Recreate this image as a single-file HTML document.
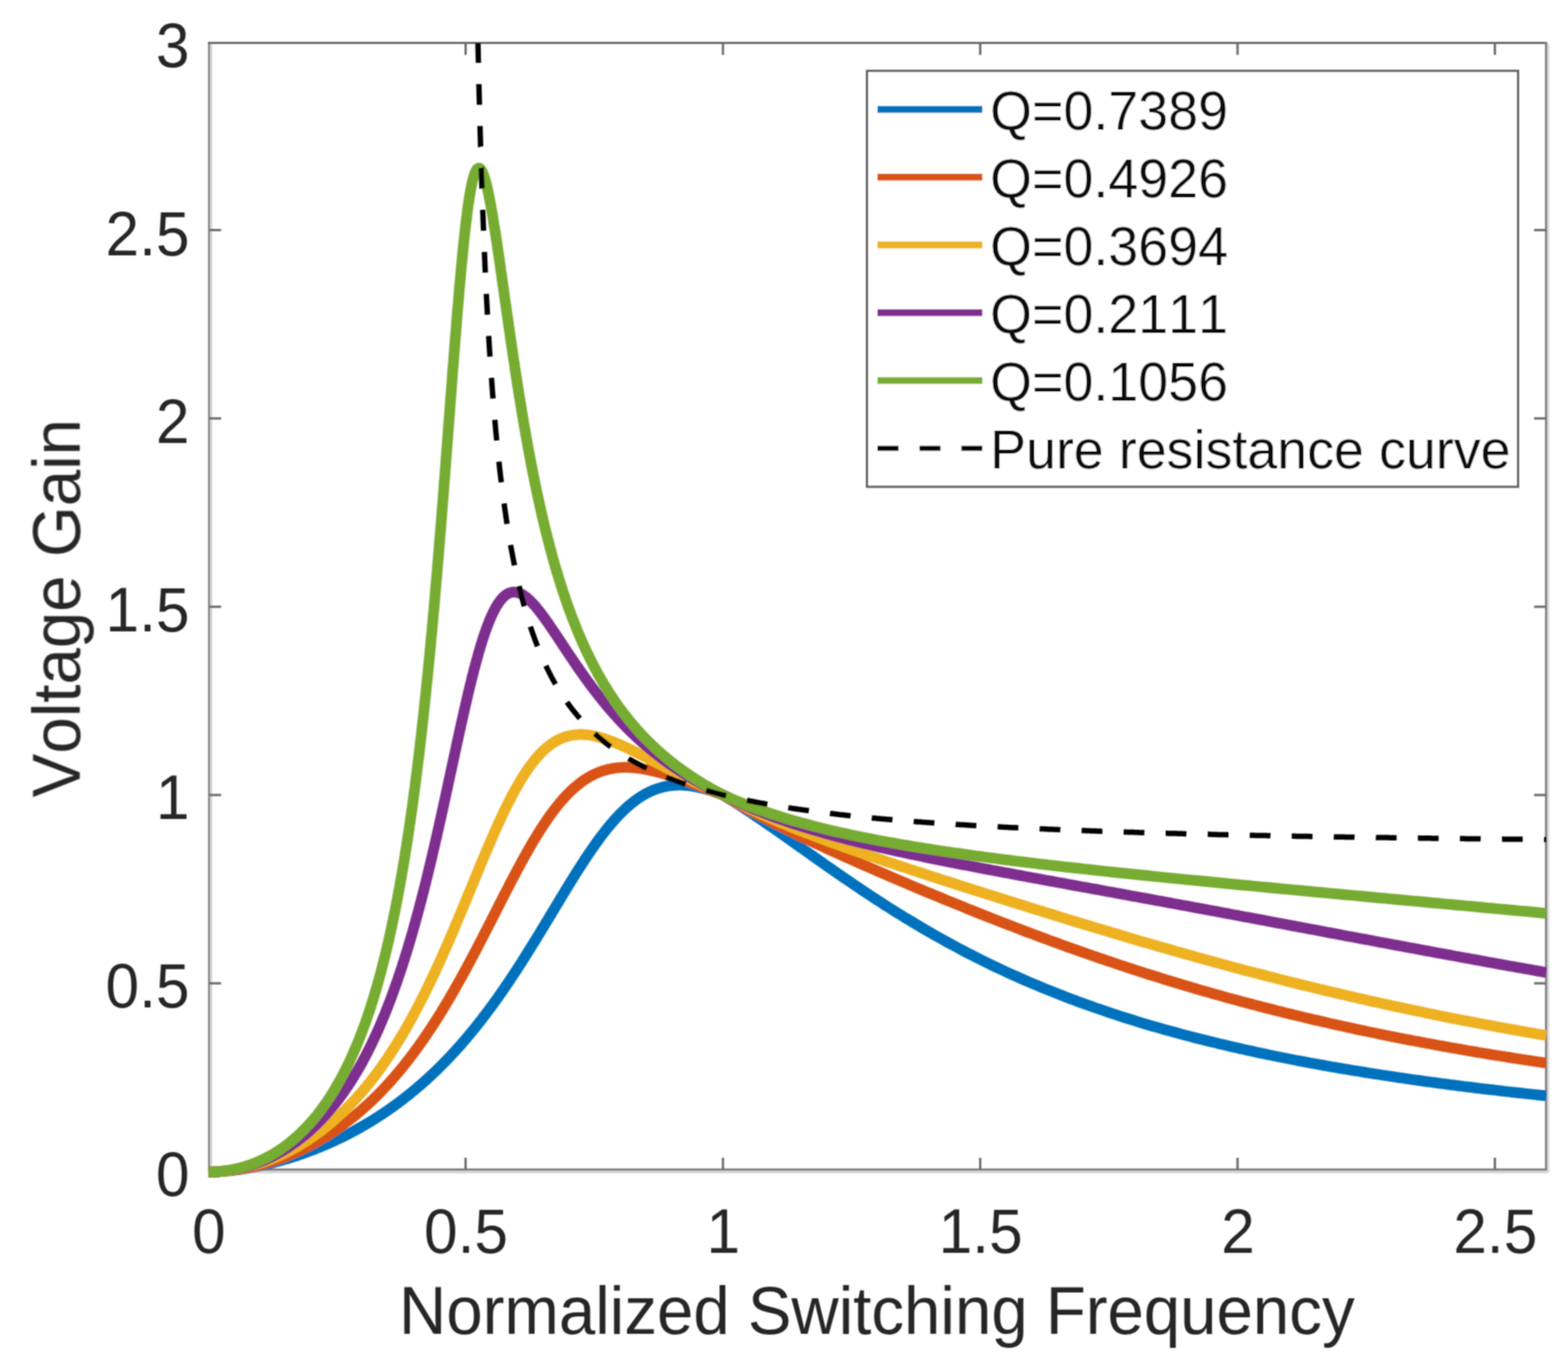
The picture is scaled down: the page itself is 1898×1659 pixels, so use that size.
<!DOCTYPE html>
<html><head><meta charset="utf-8"><title>Voltage Gain</title>
<style>html,body{margin:0;padding:0;background:#fff;}svg{display:block;}text{font-kerning:none;}</style>
</head><body>
<svg width="1898" height="1659" viewBox="0 0 1898 1659">
<rect width="100%" height="100%" fill="#fff"/>
<defs><filter id="soft" x="0" y="0" width="1898" height="1659" filterUnits="userSpaceOnUse"><feConvolveMatrix order="3" kernelMatrix="1 2 1 2 4 2 1 2 1" divisor="16" edgeMode="none"/></filter><clipPath id="ax"><rect x="252.2" y="51.9" width="1620.3" height="1375.6"/></clipPath></defs>
<g filter="url(#soft)">
<rect x="251.8" y="50.9" width="2.5" height="1365" fill="#808080"/>
<rect x="254.3" y="53" width="2.6" height="1361" fill="#d2d2d2"/>
<rect x="251.8" y="1413.9" width="1621" height="2.9" fill="#808080"/>
<rect x="254.3" y="1416.8" width="1619" height="3.1" fill="#d6d6d6"/>
<rect x="251.8" y="50.8" width="1621" height="2.3" fill="#555"/>
<rect x="1870.2" y="50.9" width="2.7" height="1365" fill="#7a7a7a"/>
<rect x="1872.9" y="53" width="2.6" height="1366" fill="#dcdcdc"/>
<g stroke="#6a6a6a" stroke-width="2.8" fill="none">
<line x1="563.6" y1="1415.5" x2="563.6" y2="1401.0"/><line x1="563.6" y1="51.9" x2="563.6" y2="66.4"/>
<line x1="875.1" y1="1415.5" x2="875.1" y2="1401.0"/><line x1="875.1" y1="51.9" x2="875.1" y2="66.4"/>
<line x1="1186.5" y1="1415.5" x2="1186.5" y2="1401.0"/><line x1="1186.5" y1="51.9" x2="1186.5" y2="66.4"/>
<line x1="1498.0" y1="1415.5" x2="1498.0" y2="1401.0"/><line x1="1498.0" y1="51.9" x2="1498.0" y2="66.4"/>
<line x1="1809.5" y1="1415.5" x2="1809.5" y2="1401.0"/><line x1="1809.5" y1="51.9" x2="1809.5" y2="66.4"/>
<line x1="253.2" y1="1189.9" x2="267.7" y2="1189.9"/><line x1="1871.5" y1="1189.9" x2="1857.0" y2="1189.9"/>
<line x1="253.2" y1="962.0" x2="267.7" y2="962.0"/><line x1="1871.5" y1="962.0" x2="1857.0" y2="962.0"/>
<line x1="253.2" y1="734.2" x2="267.7" y2="734.2"/><line x1="1871.5" y1="734.2" x2="1857.0" y2="734.2"/>
<line x1="253.2" y1="506.3" x2="267.7" y2="506.3"/><line x1="1871.5" y1="506.3" x2="1857.0" y2="506.3"/>
<line x1="253.2" y1="278.4" x2="267.7" y2="278.4"/><line x1="1871.5" y1="278.4" x2="1857.0" y2="278.4"/>
</g>
<g clip-path="url(#ax)" fill="none" stroke-linejoin="round">
<path d="M252.5,1418.2 L255.7,1418.2 L258.8,1418.1 L262.0,1417.9 L265.2,1417.7 L268.3,1417.5 L271.5,1417.2 L274.6,1416.9 L277.8,1416.6 L281.0,1416.3 L284.1,1415.9 L287.3,1415.4 L290.5,1415.0 L293.6,1414.5 L296.8,1414.0 L299.9,1413.5 L303.1,1412.9 L306.3,1412.3 L309.4,1411.7 L312.6,1411.0 L315.8,1410.4 L318.9,1409.7 L322.1,1408.9 L325.2,1408.2 L328.4,1407.4 L331.6,1406.6 L334.7,1405.8 L337.9,1404.9 L341.0,1404.0 L344.2,1403.1 L347.4,1402.2 L350.5,1401.2 L353.7,1400.2 L356.9,1399.2 L360.0,1398.2 L363.2,1397.1 L366.3,1396.0 L369.5,1394.9 L372.7,1393.7 L375.8,1392.5 L379.0,1391.3 L382.2,1390.1 L385.3,1388.8 L388.5,1387.6 L391.6,1386.2 L394.8,1384.9 L398.0,1383.5 L401.1,1382.1 L404.3,1380.7 L407.4,1379.2 L410.6,1377.7 L413.8,1376.2 L416.9,1374.6 L420.1,1373.0 L423.3,1371.4 L426.4,1369.7 L429.6,1368.0 L432.7,1366.3 L435.9,1364.5 L439.1,1362.7 L439.1,1362.7 L439.7,1362.4 L440.3,1362.0 L440.9,1361.6 L441.6,1361.3 L442.2,1360.9 L442.8,1360.5 L443.4,1360.2 L444.1,1359.8 L444.7,1359.4 L445.3,1359.1 L445.9,1358.7 L446.6,1358.3 L447.2,1357.9 L447.8,1357.6 L448.4,1357.2 L449.1,1356.8 L449.7,1356.4 L450.3,1356.0 L450.9,1355.7 L451.5,1355.3 L452.2,1354.9 L452.8,1354.5 L453.4,1354.1 L454.0,1353.7 L454.7,1353.3 L455.3,1352.9 L455.9,1352.5 L456.5,1352.1 L457.2,1351.7 L457.8,1351.3 L458.4,1350.9 L459.0,1350.5 L459.7,1350.1 L460.3,1349.7 L460.9,1349.3 L461.5,1348.9 L462.2,1348.5 L462.8,1348.1 L463.4,1347.7 L464.0,1347.2 L464.6,1346.8 L465.3,1346.4 L465.9,1346.0 L466.5,1345.6 L467.1,1345.1 L467.8,1344.7 L468.4,1344.3 L469.0,1343.9 L469.6,1343.4 L470.3,1343.0 L470.9,1342.6 L471.5,1342.1 L472.1,1341.7 L472.8,1341.2 L473.4,1340.8 L474.0,1340.4 L474.6,1339.9 L475.2,1339.5 L475.9,1339.0 L476.5,1338.6 L477.1,1338.1 L477.7,1337.7 L478.4,1337.2 L479.0,1336.8 L479.6,1336.3 L480.2,1335.9 L480.9,1335.4 L481.5,1334.9 L482.1,1334.5 L482.7,1334.0 L483.4,1333.5 L484.0,1333.1 L484.6,1332.6 L485.2,1332.1 L485.9,1331.7 L486.5,1331.2 L487.1,1330.7 L487.7,1330.2 L488.3,1329.8 L489.0,1329.3 L489.6,1328.8 L490.2,1328.3 L490.8,1327.8 L491.5,1327.3 L492.1,1326.8 L492.7,1326.3 L493.3,1325.9 L494.0,1325.4 L494.6,1324.9 L495.2,1324.4 L495.8,1323.9 L496.5,1323.4 L497.1,1322.8 L497.7,1322.3 L498.3,1321.8 L499.0,1321.3 L499.6,1320.8 L500.2,1320.3 L500.8,1319.8 L501.4,1319.3 L502.1,1318.7 L502.7,1318.2 L503.3,1317.7 L503.9,1317.2 L504.6,1316.6 L505.2,1316.1 L505.8,1315.6 L506.4,1315.1 L507.1,1314.5 L507.7,1314.0 L508.3,1313.4 L508.9,1312.9 L509.6,1312.4 L510.2,1311.8 L510.8,1311.3 L511.4,1310.7 L512.1,1310.2 L512.7,1309.6 L513.3,1309.1 L513.9,1308.5 L514.5,1307.9 L515.2,1307.4 L515.8,1306.8 L516.4,1306.3 L517.0,1305.7 L517.7,1305.1 L518.3,1304.6 L518.9,1304.0 L519.5,1303.4 L520.2,1302.8 L520.8,1302.3 L521.4,1301.7 L522.0,1301.1 L522.7,1300.5 L523.3,1299.9 L523.9,1299.3 L524.5,1298.7 L525.2,1298.2 L525.8,1297.6 L526.4,1297.0 L527.0,1296.4 L527.6,1295.8 L528.3,1295.2 L528.9,1294.6 L529.5,1293.9 L530.1,1293.3 L530.8,1292.7 L531.4,1292.1 L532.0,1291.5 L532.6,1290.9 L533.3,1290.3 L533.9,1289.6 L534.5,1289.0 L535.1,1288.4 L535.8,1287.8 L536.4,1287.1 L537.0,1286.5 L537.6,1285.9 L538.3,1285.2 L538.9,1284.6 L539.5,1283.9 L540.1,1283.3 L540.7,1282.7 L541.4,1282.0 L542.0,1281.4 L542.6,1280.7 L543.2,1280.1 L543.9,1279.4 L544.5,1278.7 L545.1,1278.1 L545.7,1277.4 L546.4,1276.7 L547.0,1276.1 L547.6,1275.4 L548.2,1274.7 L548.9,1274.1 L549.5,1273.4 L550.1,1272.7 L550.7,1272.0 L551.4,1271.3 L552.0,1270.7 L552.6,1270.0 L553.2,1269.3 L553.8,1268.6 L554.5,1267.9 L555.1,1267.2 L555.7,1266.5 L556.3,1265.8 L557.0,1265.1 L557.6,1264.4 L558.2,1263.7 L558.8,1263.0 L559.5,1262.2 L560.1,1261.5 L560.7,1260.8 L561.3,1260.1 L562.0,1259.4 L562.6,1258.6 L563.2,1257.9 L563.8,1257.2 L564.5,1256.4 L565.1,1255.7 L565.7,1255.0 L566.3,1254.2 L566.9,1253.5 L567.6,1252.8 L568.2,1252.0 L568.8,1251.3 L569.4,1250.5 L570.1,1249.8 L570.7,1249.0 L571.3,1248.2 L571.9,1247.5 L572.6,1246.7 L573.2,1245.9 L573.8,1245.2 L574.4,1244.4 L575.1,1243.6 L575.7,1242.9 L576.3,1242.1 L576.9,1241.3 L577.6,1240.5 L578.2,1239.7 L578.8,1238.9 L579.4,1238.2 L580.0,1237.4 L580.7,1236.6 L581.3,1235.8 L581.9,1235.0 L582.5,1234.2 L583.2,1233.4 L583.8,1232.6 L584.4,1231.8 L585.0,1230.9 L585.7,1230.1 L586.3,1229.3 L586.9,1228.5 L587.5,1227.7 L588.2,1226.9 L588.8,1226.0 L589.4,1225.2 L590.0,1224.4 L590.7,1223.5 L591.3,1222.7 L591.9,1221.9 L592.5,1221.0 L593.1,1220.2 L593.8,1219.3 L594.4,1218.5 L595.0,1217.6 L595.6,1216.8 L596.3,1215.9 L596.9,1215.1 L597.5,1214.2 L598.1,1213.4 L598.8,1212.5 L599.4,1211.6 L600.0,1210.8 L600.6,1209.9 L601.3,1209.0 L601.9,1208.1 L602.5,1207.3 L603.1,1206.4 L603.8,1205.5 L604.4,1204.6 L605.0,1203.7 L605.6,1202.9 L606.2,1202.0 L606.9,1201.1 L607.5,1200.2 L608.1,1199.3 L608.7,1198.4 L609.4,1197.5 L610.0,1196.6 L610.6,1195.7 L611.2,1194.8 L611.9,1193.8 L612.5,1192.9 L613.1,1192.0 L613.7,1191.1 L614.4,1190.2 L615.0,1189.3 L615.6,1188.3 L616.2,1187.4 L616.9,1186.5 L617.5,1185.5 L618.1,1184.6 L618.7,1183.7 L619.3,1182.7 L620.0,1181.8 L620.6,1180.9 L621.2,1179.9 L621.8,1179.0 L622.5,1178.0 L623.1,1177.1 L623.7,1176.1 L624.3,1175.2 L625.0,1174.2 L625.6,1173.3 L626.2,1172.3 L626.8,1171.3 L627.5,1170.4 L628.1,1169.4 L628.7,1168.4 L629.3,1167.5 L630.0,1166.5 L630.6,1165.5 L631.2,1164.6 L631.8,1163.6 L632.4,1162.6 L633.1,1161.6 L633.7,1160.6 L634.3,1159.7 L634.9,1158.7 L635.6,1157.7 L636.2,1156.7 L636.8,1155.7 L637.4,1154.7 L638.1,1153.7 L638.7,1152.7 L639.3,1151.7 L639.9,1150.7 L640.6,1149.7 L641.2,1148.7 L641.8,1147.7 L642.4,1146.7 L643.0,1145.7 L643.7,1144.7 L644.3,1143.7 L644.9,1142.7 L645.5,1141.7 L646.2,1140.7 L646.8,1139.7 L647.4,1138.7 L648.0,1137.7 L648.7,1136.6 L649.3,1135.6 L649.9,1134.6 L650.5,1133.6 L651.2,1132.6 L651.8,1131.5 L652.4,1130.5 L653.0,1129.5 L653.7,1128.5 L654.3,1127.4 L654.9,1126.4 L655.5,1125.4 L656.1,1124.4 L656.8,1123.3 L657.4,1122.3 L658.0,1121.3 L658.6,1120.2 L659.3,1119.2 L659.9,1118.2 L660.5,1117.2 L661.1,1116.1 L661.8,1115.1 L662.4,1114.1 L663.0,1113.0 L663.6,1112.0 L664.3,1111.0 L664.9,1109.9 L665.5,1108.9 L666.1,1107.8 L666.8,1106.8 L667.4,1105.8 L668.0,1104.7 L668.6,1103.7 L669.2,1102.7 L669.9,1101.6 L670.5,1100.6 L671.1,1099.6 L671.7,1098.5 L672.4,1097.5 L673.0,1096.4 L673.6,1095.4 L674.2,1094.4 L674.9,1093.3 L675.5,1092.3 L676.1,1091.3 L676.7,1090.2 L677.4,1089.2 L678.0,1088.2 L678.6,1087.1 L679.2,1086.1 L679.9,1085.1 L680.5,1084.0 L681.1,1083.0 L681.7,1082.0 L682.3,1081.0 L683.0,1079.9 L683.6,1078.9 L684.2,1077.9 L684.8,1076.9 L685.5,1075.8 L686.1,1074.8 L686.7,1073.8 L687.3,1072.8 L688.0,1071.8 L688.6,1070.7 L689.2,1069.7 L689.8,1068.7 L690.5,1067.7 L691.1,1066.7 L691.7,1065.7 L692.3,1064.7 L693.0,1063.7 L693.6,1062.7 L694.2,1061.7 L694.8,1060.7 L695.4,1059.7 L696.1,1058.7 L696.7,1057.7 L697.3,1056.7 L697.9,1055.7 L698.6,1054.7 L699.2,1053.7 L699.8,1052.7 L700.4,1051.8 L701.1,1050.8 L701.7,1049.8 L702.3,1048.8 L702.9,1047.9 L703.6,1046.9 L704.2,1045.9 L704.8,1045.0 L705.4,1044.0 L706.1,1043.1 L706.7,1042.1 L707.3,1041.1 L707.9,1040.2 L708.5,1039.2 L709.2,1038.3 L709.8,1037.4 L710.4,1036.4 L711.0,1035.5 L711.7,1034.6 L712.3,1033.6 L712.9,1032.7 L713.5,1031.8 L714.2,1030.9 L714.8,1030.0 L715.4,1029.1 L716.0,1028.1 L716.7,1027.2 L717.3,1026.3 L717.9,1025.5 L718.5,1024.6 L719.2,1023.7 L719.8,1022.8 L720.4,1021.9 L721.0,1021.0 L721.6,1020.2 L722.3,1019.3 L722.9,1018.4 L723.5,1017.6 L724.1,1016.7 L724.8,1015.9 L725.4,1015.0 L726.0,1014.2 L726.6,1013.3 L727.3,1012.5 L727.9,1011.7 L728.5,1010.9 L729.1,1010.0 L729.8,1009.2 L730.4,1008.4 L731.0,1007.6 L731.6,1006.8 L732.3,1006.0 L732.9,1005.2 L733.5,1004.4 L734.1,1003.6 L734.7,1002.9 L735.4,1002.1 L736.0,1001.3 L736.6,1000.6 L737.2,999.8 L737.9,999.1 L738.5,998.3 L739.1,997.6 L739.7,996.8 L740.4,996.1 L741.0,995.4 L741.6,994.7 L742.2,993.9 L742.9,993.2 L743.5,992.5 L744.1,991.8 L744.7,991.1 L745.4,990.4 L746.0,989.8 L746.6,989.1 L747.2,988.4 L747.8,987.8 L748.5,987.1 L749.1,986.4 L749.7,985.8 L750.3,985.1 L751.0,984.5 L751.6,983.9 L752.2,983.3 L752.8,982.6 L753.5,982.0 L754.1,981.4 L754.7,980.8 L755.3,980.2 L756.0,979.6 L756.6,979.0 L757.2,978.5 L757.8,977.9 L758.5,977.3 L759.1,976.8 L759.7,976.2 L760.3,975.7 L760.9,975.1 L761.6,974.6 L762.2,974.0 L762.8,973.5 L763.4,973.0 L764.1,972.5 L764.7,972.0 L765.3,971.5 L765.9,971.0 L766.6,970.5 L767.2,970.0 L767.8,969.5 L768.4,969.1 L769.1,968.6 L769.7,968.1 L770.3,967.7 L770.9,967.2 L771.6,966.8 L772.2,966.4 L772.8,965.9 L773.4,965.5 L774.0,965.1 L774.7,964.7 L775.3,964.3 L775.9,963.9 L776.5,963.5 L777.2,963.1 L777.8,962.7 L778.4,962.4 L779.0,962.0 L779.7,961.6 L780.3,961.3 L780.9,960.9 L781.5,960.6 L782.2,960.2 L782.8,959.9 L783.4,959.6 L784.0,959.3 L784.7,959.0 L785.3,958.6 L785.9,958.3 L786.5,958.0 L787.1,957.8 L787.8,957.5 L788.4,957.2 L789.0,956.9 L789.6,956.6 L790.3,956.4 L790.9,956.1 L791.5,955.9 L792.1,955.6 L792.8,955.4 L793.4,955.2 L794.0,954.9 L794.6,954.7 L795.3,954.5 L795.9,954.3 L796.5,954.1 L797.1,953.9 L797.7,953.7 L798.4,953.5 L799.0,953.3 L799.6,953.1 L800.2,953.0 L800.9,952.8 L801.5,952.6 L802.1,952.5 L802.7,952.3 L803.4,952.2 L804.0,952.0 L804.6,951.9 L805.2,951.8 L805.9,951.6 L806.5,951.5 L807.1,951.4 L807.7,951.3 L808.4,951.2 L809.0,951.1 L809.6,951.0 L810.2,950.9 L810.8,950.8 L811.5,950.7 L812.1,950.7 L812.7,950.6 L813.3,950.5 L814.0,950.5 L814.6,950.4 L815.2,950.3 L815.8,950.3 L816.5,950.3 L817.1,950.2 L817.7,950.2 L818.3,950.2 L819.0,950.1 L819.6,950.1 L820.2,950.1 L820.8,950.1 L821.5,950.1 L822.1,950.1 L822.7,950.1 L823.3,950.1 L823.9,950.1 L824.6,950.1 L825.2,950.1 L825.8,950.1 L826.4,950.2 L827.1,950.2 L827.7,950.2 L828.3,950.3 L828.9,950.3 L829.6,950.4 L830.2,950.4 L830.8,950.5 L831.4,950.5 L832.1,950.6 L832.7,950.6 L833.3,950.7 L833.9,950.8 L834.6,950.8 L835.2,950.9 L835.8,951.0 L836.4,951.1 L837.0,951.2 L837.7,951.3 L838.3,951.4 L838.9,951.5 L839.5,951.6 L840.2,951.7 L840.8,951.8 L841.4,951.9 L842.0,952.0 L842.7,952.1 L843.3,952.3 L843.9,952.4 L844.5,952.5 L845.2,952.6 L845.8,952.8 L846.4,952.9 L847.0,953.1 L847.7,953.2 L848.3,953.3 L848.9,953.5 L849.5,953.6 L850.1,953.8 L850.8,954.0 L851.4,954.1 L852.0,954.3 L852.6,954.4 L853.3,954.6 L853.9,954.8 L854.5,955.0 L855.1,955.1 L855.8,955.3 L856.4,955.5 L857.0,955.7 L857.6,955.9 L858.3,956.0 L858.9,956.2 L859.5,956.4 L860.1,956.6 L860.8,956.8 L861.4,957.0 L862.0,957.2 L862.6,957.4 L863.2,957.6 L863.9,957.8 L864.5,958.0 L865.1,958.3 L865.7,958.5 L866.4,958.7 L867.0,958.9 L867.6,959.1 L868.2,959.3 L868.9,959.6 L869.5,959.8 L870.1,960.0 L870.7,960.2 L871.4,960.5 L872.0,960.7 L872.6,960.9 L873.2,961.2 L873.9,961.4 L874.5,961.7 L875.1,961.9 L880.1,965.0 L885.1,968.1 L890.1,971.3 L895.1,974.5 L900.1,977.8 L905.1,981.1 L910.2,984.4 L915.2,987.8 L920.2,991.2 L925.2,994.6 L930.2,998.0 L935.2,1001.5 L940.2,1005.0 L945.2,1008.5 L950.2,1012.0 L955.2,1015.6 L960.2,1019.1 L965.2,1022.6 L970.3,1026.2 L975.3,1029.7 L980.3,1033.3 L985.3,1036.8 L990.3,1040.3 L995.3,1043.8 L1000.3,1047.4 L1005.3,1050.9 L1010.3,1054.3 L1015.3,1057.8 L1020.3,1061.3 L1025.3,1064.7 L1030.4,1068.1 L1035.4,1071.5 L1040.4,1074.9 L1045.4,1078.3 L1050.4,1081.6 L1055.4,1084.9 L1060.4,1088.2 L1065.4,1091.4 L1070.4,1094.7 L1075.4,1097.9 L1080.4,1101.0 L1085.4,1104.2 L1090.5,1107.3 L1095.5,1110.4 L1100.5,1113.4 L1105.5,1116.4 L1110.5,1119.4 L1115.5,1122.4 L1120.5,1125.3 L1125.5,1128.2 L1130.5,1131.1 L1135.5,1133.9 L1140.5,1136.7 L1145.5,1139.5 L1150.6,1142.2 L1155.6,1144.9 L1160.6,1147.6 L1165.6,1150.3 L1170.6,1152.9 L1175.6,1155.4 L1180.6,1158.0 L1185.6,1160.5 L1190.6,1163.0 L1195.6,1165.5 L1200.6,1167.9 L1205.6,1170.3 L1210.7,1172.6 L1215.7,1175.0 L1220.7,1177.3 L1225.7,1179.6 L1230.7,1181.8 L1235.7,1184.0 L1240.7,1186.2 L1245.7,1188.4 L1250.7,1190.5 L1255.7,1192.6 L1260.7,1194.7 L1265.7,1196.8 L1270.8,1198.8 L1275.8,1200.8 L1280.8,1202.8 L1285.8,1204.7 L1290.8,1206.7 L1295.8,1208.6 L1300.8,1210.4 L1305.8,1212.3 L1310.8,1214.1 L1315.8,1215.9 L1320.8,1217.7 L1325.8,1219.5 L1330.8,1221.2 L1335.9,1222.9 L1340.9,1224.6 L1345.9,1226.3 L1350.9,1227.9 L1355.9,1229.6 L1360.9,1231.2 L1365.9,1232.8 L1370.9,1234.3 L1375.9,1235.9 L1380.9,1237.4 L1385.9,1238.9 L1390.9,1240.4 L1396.0,1241.9 L1401.0,1243.3 L1406.0,1244.7 L1411.0,1246.2 L1416.0,1247.6 L1421.0,1248.9 L1426.0,1250.3 L1431.0,1251.7 L1436.0,1253.0 L1441.0,1254.3 L1446.0,1255.6 L1451.0,1256.9 L1456.1,1258.1 L1461.1,1259.4 L1466.1,1260.6 L1471.1,1261.8 L1476.1,1263.1 L1481.1,1264.2 L1486.1,1265.4 L1491.1,1266.6 L1496.1,1267.7 L1501.1,1268.9 L1506.1,1270.0 L1511.1,1271.1 L1516.2,1272.2 L1521.2,1273.3 L1526.2,1274.4 L1531.2,1275.4 L1536.2,1276.5 L1541.2,1277.5 L1546.2,1278.5 L1551.2,1279.5 L1556.2,1280.5 L1561.2,1281.5 L1566.2,1282.5 L1571.2,1283.5 L1576.3,1284.4 L1581.3,1285.4 L1586.3,1286.3 L1591.3,1287.2 L1596.3,1288.1 L1601.3,1289.0 L1606.3,1289.9 L1611.3,1290.8 L1616.3,1291.7 L1621.3,1292.5 L1626.3,1293.4 L1631.3,1294.2 L1636.4,1295.1 L1641.4,1295.9 L1646.4,1296.7 L1651.4,1297.5 L1656.4,1298.3 L1661.4,1299.1 L1666.4,1299.9 L1671.4,1300.7 L1676.4,1301.4 L1681.4,1302.2 L1686.4,1302.9 L1691.4,1303.7 L1696.5,1304.4 L1701.5,1305.1 L1706.5,1305.9 L1711.5,1306.6 L1716.5,1307.3 L1721.5,1308.0 L1726.5,1308.7 L1731.5,1309.4 L1736.5,1310.0 L1741.5,1310.7 L1746.5,1311.4 L1751.5,1312.0 L1756.6,1312.7 L1761.6,1313.3 L1766.6,1314.0 L1771.6,1314.6 L1776.6,1315.2 L1781.6,1315.8 L1786.6,1316.5 L1791.6,1317.1 L1796.6,1317.7 L1801.6,1318.3 L1806.6,1318.8 L1811.6,1319.4 L1816.6,1320.0 L1821.7,1320.6 L1826.7,1321.1 L1831.7,1321.7 L1836.7,1322.3 L1841.7,1322.8 L1846.7,1323.4 L1851.7,1323.9 L1856.7,1324.4 L1861.7,1325.0 L1866.7,1325.5 L1871.7,1326.0" stroke="#0072BD" stroke-width="13"/>
<path d="M252.5,1418.2 L255.7,1418.2 L258.8,1418.1 L262.0,1417.9 L265.2,1417.8 L268.3,1417.5 L271.5,1417.3 L274.6,1417.0 L277.8,1416.6 L281.0,1416.2 L284.1,1415.8 L287.3,1415.3 L290.5,1414.8 L293.6,1414.3 L296.8,1413.7 L299.9,1413.1 L303.1,1412.4 L306.3,1411.7 L309.4,1411.0 L312.6,1410.2 L315.8,1409.3 L318.9,1408.5 L322.1,1407.6 L325.2,1406.6 L328.4,1405.6 L331.6,1404.6 L334.7,1403.6 L337.9,1402.4 L341.0,1401.3 L344.2,1400.1 L347.4,1398.9 L350.5,1397.6 L353.7,1396.3 L356.9,1394.9 L360.0,1393.5 L363.2,1392.0 L366.3,1390.5 L369.5,1389.0 L372.7,1387.4 L375.8,1385.8 L379.0,1384.1 L382.2,1382.3 L385.3,1380.6 L388.5,1378.7 L391.6,1376.8 L394.8,1374.9 L398.0,1372.9 L401.1,1370.9 L404.3,1368.8 L407.4,1366.6 L410.6,1364.4 L413.8,1362.1 L416.9,1359.8 L420.1,1357.4 L423.3,1355.0 L426.4,1352.5 L429.6,1349.9 L432.7,1347.3 L435.9,1344.6 L439.1,1341.9 L439.1,1341.9 L439.7,1341.3 L440.3,1340.8 L440.9,1340.2 L441.6,1339.7 L442.2,1339.1 L442.8,1338.6 L443.4,1338.0 L444.1,1337.4 L444.7,1336.9 L445.3,1336.3 L445.9,1335.7 L446.6,1335.1 L447.2,1334.5 L447.8,1334.0 L448.4,1333.4 L449.1,1332.8 L449.7,1332.2 L450.3,1331.6 L450.9,1331.0 L451.5,1330.4 L452.2,1329.8 L452.8,1329.2 L453.4,1328.6 L454.0,1328.0 L454.7,1327.4 L455.3,1326.8 L455.9,1326.1 L456.5,1325.5 L457.2,1324.9 L457.8,1324.3 L458.4,1323.6 L459.0,1323.0 L459.7,1322.4 L460.3,1321.7 L460.9,1321.1 L461.5,1320.4 L462.2,1319.8 L462.8,1319.1 L463.4,1318.5 L464.0,1317.8 L464.6,1317.2 L465.3,1316.5 L465.9,1315.9 L466.5,1315.2 L467.1,1314.5 L467.8,1313.8 L468.4,1313.2 L469.0,1312.5 L469.6,1311.8 L470.3,1311.1 L470.9,1310.4 L471.5,1309.8 L472.1,1309.1 L472.8,1308.4 L473.4,1307.7 L474.0,1307.0 L474.6,1306.3 L475.2,1305.6 L475.9,1304.8 L476.5,1304.1 L477.1,1303.4 L477.7,1302.7 L478.4,1302.0 L479.0,1301.2 L479.6,1300.5 L480.2,1299.8 L480.9,1299.0 L481.5,1298.3 L482.1,1297.6 L482.7,1296.8 L483.4,1296.1 L484.0,1295.3 L484.6,1294.6 L485.2,1293.8 L485.9,1293.1 L486.5,1292.3 L487.1,1291.5 L487.7,1290.8 L488.3,1290.0 L489.0,1289.2 L489.6,1288.4 L490.2,1287.7 L490.8,1286.9 L491.5,1286.1 L492.1,1285.3 L492.7,1284.5 L493.3,1283.7 L494.0,1282.9 L494.6,1282.1 L495.2,1281.3 L495.8,1280.5 L496.5,1279.7 L497.1,1278.8 L497.7,1278.0 L498.3,1277.2 L499.0,1276.4 L499.6,1275.5 L500.2,1274.7 L500.8,1273.9 L501.4,1273.0 L502.1,1272.2 L502.7,1271.3 L503.3,1270.5 L503.9,1269.6 L504.6,1268.8 L505.2,1267.9 L505.8,1267.1 L506.4,1266.2 L507.1,1265.3 L507.7,1264.5 L508.3,1263.6 L508.9,1262.7 L509.6,1261.8 L510.2,1260.9 L510.8,1260.1 L511.4,1259.2 L512.1,1258.3 L512.7,1257.4 L513.3,1256.5 L513.9,1255.6 L514.5,1254.7 L515.2,1253.7 L515.8,1252.8 L516.4,1251.9 L517.0,1251.0 L517.7,1250.1 L518.3,1249.1 L518.9,1248.2 L519.5,1247.3 L520.2,1246.3 L520.8,1245.4 L521.4,1244.5 L522.0,1243.5 L522.7,1242.6 L523.3,1241.6 L523.9,1240.6 L524.5,1239.7 L525.2,1238.7 L525.8,1237.7 L526.4,1236.8 L527.0,1235.8 L527.6,1234.8 L528.3,1233.8 L528.9,1232.9 L529.5,1231.9 L530.1,1230.9 L530.8,1229.9 L531.4,1228.9 L532.0,1227.9 L532.6,1226.9 L533.3,1225.9 L533.9,1224.9 L534.5,1223.9 L535.1,1222.8 L535.8,1221.8 L536.4,1220.8 L537.0,1219.8 L537.6,1218.8 L538.3,1217.7 L538.9,1216.7 L539.5,1215.6 L540.1,1214.6 L540.7,1213.6 L541.4,1212.5 L542.0,1211.5 L542.6,1210.4 L543.2,1209.4 L543.9,1208.3 L544.5,1207.2 L545.1,1206.2 L545.7,1205.1 L546.4,1204.0 L547.0,1202.9 L547.6,1201.9 L548.2,1200.8 L548.9,1199.7 L549.5,1198.6 L550.1,1197.5 L550.7,1196.4 L551.4,1195.3 L552.0,1194.2 L552.6,1193.1 L553.2,1192.0 L553.8,1190.9 L554.5,1189.8 L555.1,1188.7 L555.7,1187.6 L556.3,1186.5 L557.0,1185.4 L557.6,1184.2 L558.2,1183.1 L558.8,1182.0 L559.5,1180.8 L560.1,1179.7 L560.7,1178.6 L561.3,1177.4 L562.0,1176.3 L562.6,1175.2 L563.2,1174.0 L563.8,1172.9 L564.5,1171.7 L565.1,1170.6 L565.7,1169.4 L566.3,1168.2 L566.9,1167.1 L567.6,1165.9 L568.2,1164.8 L568.8,1163.6 L569.4,1162.4 L570.1,1161.2 L570.7,1160.1 L571.3,1158.9 L571.9,1157.7 L572.6,1156.5 L573.2,1155.4 L573.8,1154.2 L574.4,1153.0 L575.1,1151.8 L575.7,1150.6 L576.3,1149.4 L576.9,1148.2 L577.6,1147.0 L578.2,1145.8 L578.8,1144.6 L579.4,1143.4 L580.0,1142.2 L580.7,1141.0 L581.3,1139.8 L581.9,1138.6 L582.5,1137.4 L583.2,1136.2 L583.8,1135.0 L584.4,1133.8 L585.0,1132.6 L585.7,1131.4 L586.3,1130.2 L586.9,1128.9 L587.5,1127.7 L588.2,1126.5 L588.8,1125.3 L589.4,1124.1 L590.0,1122.9 L590.7,1121.6 L591.3,1120.4 L591.9,1119.2 L592.5,1118.0 L593.1,1116.7 L593.8,1115.5 L594.4,1114.3 L595.0,1113.1 L595.6,1111.8 L596.3,1110.6 L596.9,1109.4 L597.5,1108.2 L598.1,1106.9 L598.8,1105.7 L599.4,1104.5 L600.0,1103.3 L600.6,1102.0 L601.3,1100.8 L601.9,1099.6 L602.5,1098.4 L603.1,1097.1 L603.8,1095.9 L604.4,1094.7 L605.0,1093.5 L605.6,1092.2 L606.2,1091.0 L606.9,1089.8 L607.5,1088.6 L608.1,1087.4 L608.7,1086.1 L609.4,1084.9 L610.0,1083.7 L610.6,1082.5 L611.2,1081.3 L611.9,1080.1 L612.5,1078.8 L613.1,1077.6 L613.7,1076.4 L614.4,1075.2 L615.0,1074.0 L615.6,1072.8 L616.2,1071.6 L616.9,1070.4 L617.5,1069.2 L618.1,1068.0 L618.7,1066.8 L619.3,1065.6 L620.0,1064.4 L620.6,1063.2 L621.2,1062.0 L621.8,1060.8 L622.5,1059.7 L623.1,1058.5 L623.7,1057.3 L624.3,1056.1 L625.0,1055.0 L625.6,1053.8 L626.2,1052.6 L626.8,1051.4 L627.5,1050.3 L628.1,1049.1 L628.7,1048.0 L629.3,1046.8 L630.0,1045.7 L630.6,1044.5 L631.2,1043.4 L631.8,1042.2 L632.4,1041.1 L633.1,1040.0 L633.7,1038.8 L634.3,1037.7 L634.9,1036.6 L635.6,1035.4 L636.2,1034.3 L636.8,1033.2 L637.4,1032.1 L638.1,1031.0 L638.7,1029.9 L639.3,1028.8 L639.9,1027.7 L640.6,1026.6 L641.2,1025.5 L641.8,1024.5 L642.4,1023.4 L643.0,1022.3 L643.7,1021.3 L644.3,1020.2 L644.9,1019.1 L645.5,1018.1 L646.2,1017.0 L646.8,1016.0 L647.4,1015.0 L648.0,1013.9 L648.7,1012.9 L649.3,1011.9 L649.9,1010.9 L650.5,1009.8 L651.2,1008.8 L651.8,1007.8 L652.4,1006.8 L653.0,1005.8 L653.7,1004.9 L654.3,1003.9 L654.9,1002.9 L655.5,1001.9 L656.1,1001.0 L656.8,1000.0 L657.4,999.1 L658.0,998.1 L658.6,997.2 L659.3,996.2 L659.9,995.3 L660.5,994.4 L661.1,993.5 L661.8,992.5 L662.4,991.6 L663.0,990.7 L663.6,989.8 L664.3,989.0 L664.9,988.1 L665.5,987.2 L666.1,986.3 L666.8,985.5 L667.4,984.6 L668.0,983.8 L668.6,982.9 L669.2,982.1 L669.9,981.3 L670.5,980.4 L671.1,979.6 L671.7,978.8 L672.4,978.0 L673.0,977.2 L673.6,976.4 L674.2,975.6 L674.9,974.9 L675.5,974.1 L676.1,973.3 L676.7,972.6 L677.4,971.8 L678.0,971.1 L678.6,970.3 L679.2,969.6 L679.9,968.9 L680.5,968.2 L681.1,967.4 L681.7,966.7 L682.3,966.0 L683.0,965.4 L683.6,964.7 L684.2,964.0 L684.8,963.3 L685.5,962.7 L686.1,962.0 L686.7,961.4 L687.3,960.7 L688.0,960.1 L688.6,959.5 L689.2,958.8 L689.8,958.2 L690.5,957.6 L691.1,957.0 L691.7,956.4 L692.3,955.8 L693.0,955.3 L693.6,954.7 L694.2,954.1 L694.8,953.6 L695.4,953.0 L696.1,952.5 L696.7,951.9 L697.3,951.4 L697.9,950.9 L698.6,950.4 L699.2,949.9 L699.8,949.4 L700.4,948.9 L701.1,948.4 L701.7,947.9 L702.3,947.4 L702.9,946.9 L703.6,946.5 L704.2,946.0 L704.8,945.6 L705.4,945.1 L706.1,944.7 L706.7,944.3 L707.3,943.8 L707.9,943.4 L708.5,943.0 L709.2,942.6 L709.8,942.2 L710.4,941.8 L711.0,941.4 L711.7,941.1 L712.3,940.7 L712.9,940.3 L713.5,940.0 L714.2,939.6 L714.8,939.3 L715.4,938.9 L716.0,938.6 L716.7,938.3 L717.3,938.0 L717.9,937.6 L718.5,937.3 L719.2,937.0 L719.8,936.7 L720.4,936.4 L721.0,936.2 L721.6,935.9 L722.3,935.6 L722.9,935.3 L723.5,935.1 L724.1,934.8 L724.8,934.6 L725.4,934.3 L726.0,934.1 L726.6,933.9 L727.3,933.6 L727.9,933.4 L728.5,933.2 L729.1,933.0 L729.8,932.8 L730.4,932.6 L731.0,932.4 L731.6,932.2 L732.3,932.0 L732.9,931.8 L733.5,931.7 L734.1,931.5 L734.7,931.3 L735.4,931.2 L736.0,931.0 L736.6,930.9 L737.2,930.7 L737.9,930.6 L738.5,930.5 L739.1,930.3 L739.7,930.2 L740.4,930.1 L741.0,930.0 L741.6,929.9 L742.2,929.8 L742.9,929.7 L743.5,929.6 L744.1,929.5 L744.7,929.4 L745.4,929.3 L746.0,929.3 L746.6,929.2 L747.2,929.1 L747.8,929.1 L748.5,929.0 L749.1,928.9 L749.7,928.9 L750.3,928.8 L751.0,928.8 L751.6,928.8 L752.2,928.7 L752.8,928.7 L753.5,928.7 L754.1,928.7 L754.7,928.6 L755.3,928.6 L756.0,928.6 L756.6,928.6 L757.2,928.6 L757.8,928.6 L758.5,928.6 L759.1,928.6 L759.7,928.6 L760.3,928.6 L760.9,928.7 L761.6,928.7 L762.2,928.7 L762.8,928.7 L763.4,928.8 L764.1,928.8 L764.7,928.9 L765.3,928.9 L765.9,928.9 L766.6,929.0 L767.2,929.0 L767.8,929.1 L768.4,929.2 L769.1,929.2 L769.7,929.3 L770.3,929.4 L770.9,929.4 L771.6,929.5 L772.2,929.6 L772.8,929.7 L773.4,929.7 L774.0,929.8 L774.7,929.9 L775.3,930.0 L775.9,930.1 L776.5,930.2 L777.2,930.3 L777.8,930.4 L778.4,930.5 L779.0,930.6 L779.7,930.7 L780.3,930.8 L780.9,930.9 L781.5,931.0 L782.2,931.2 L782.8,931.3 L783.4,931.4 L784.0,931.5 L784.7,931.6 L785.3,931.8 L785.9,931.9 L786.5,932.0 L787.1,932.2 L787.8,932.3 L788.4,932.5 L789.0,932.6 L789.6,932.7 L790.3,932.9 L790.9,933.0 L791.5,933.2 L792.1,933.3 L792.8,933.5 L793.4,933.6 L794.0,933.8 L794.6,934.0 L795.3,934.1 L795.9,934.3 L796.5,934.4 L797.1,934.6 L797.7,934.8 L798.4,934.9 L799.0,935.1 L799.6,935.3 L800.2,935.4 L800.9,935.6 L801.5,935.8 L802.1,936.0 L802.7,936.2 L803.4,936.3 L804.0,936.5 L804.6,936.7 L805.2,936.9 L805.9,937.1 L806.5,937.3 L807.1,937.4 L807.7,937.6 L808.4,937.8 L809.0,938.0 L809.6,938.2 L810.2,938.4 L810.8,938.6 L811.5,938.8 L812.1,939.0 L812.7,939.2 L813.3,939.4 L814.0,939.6 L814.6,939.8 L815.2,940.0 L815.8,940.2 L816.5,940.4 L817.1,940.6 L817.7,940.8 L818.3,941.0 L819.0,941.2 L819.6,941.4 L820.2,941.7 L820.8,941.9 L821.5,942.1 L822.1,942.3 L822.7,942.5 L823.3,942.7 L823.9,942.9 L824.6,943.1 L825.2,943.4 L825.8,943.6 L826.4,943.8 L827.1,944.0 L827.7,944.2 L828.3,944.5 L828.9,944.7 L829.6,944.9 L830.2,945.1 L830.8,945.3 L831.4,945.6 L832.1,945.8 L832.7,946.0 L833.3,946.2 L833.9,946.5 L834.6,946.7 L835.2,946.9 L835.8,947.1 L836.4,947.4 L837.0,947.6 L837.7,947.8 L838.3,948.0 L838.9,948.3 L839.5,948.5 L840.2,948.7 L840.8,949.0 L841.4,949.2 L842.0,949.4 L842.7,949.7 L843.3,949.9 L843.9,950.1 L844.5,950.4 L845.2,950.6 L845.8,950.8 L846.4,951.0 L847.0,951.3 L847.7,951.5 L848.3,951.7 L848.9,952.0 L849.5,952.2 L850.1,952.5 L850.8,952.7 L851.4,952.9 L852.0,953.2 L852.6,953.4 L853.3,953.6 L853.9,953.9 L854.5,954.1 L855.1,954.3 L855.8,954.6 L856.4,954.8 L857.0,955.0 L857.6,955.3 L858.3,955.5 L858.9,955.7 L859.5,956.0 L860.1,956.2 L860.8,956.5 L861.4,956.7 L862.0,956.9 L862.6,957.2 L863.2,957.4 L863.9,957.6 L864.5,957.9 L865.1,958.1 L865.7,958.4 L866.4,958.6 L867.0,958.8 L867.6,959.1 L868.2,959.3 L868.9,959.5 L869.5,959.8 L870.1,960.0 L870.7,960.2 L871.4,960.5 L872.0,960.7 L872.6,961.0 L873.2,961.2 L873.9,961.4 L874.5,961.7 L875.1,961.9 L880.1,964.9 L885.1,967.9 L890.1,970.8 L895.1,973.7 L900.1,976.5 L905.1,979.3 L910.2,982.0 L915.2,984.7 L920.2,987.4 L925.2,990.0 L930.2,992.6 L935.2,995.2 L940.2,997.7 L945.2,1000.2 L950.2,1002.7 L955.2,1005.2 L960.2,1007.6 L965.2,1010.1 L970.3,1012.5 L975.3,1014.8 L980.3,1017.2 L985.3,1019.6 L990.3,1021.9 L995.3,1024.2 L1000.3,1026.5 L1005.3,1028.8 L1010.3,1031.1 L1015.3,1033.4 L1020.3,1035.6 L1025.3,1037.9 L1030.4,1040.1 L1035.4,1042.3 L1040.4,1044.5 L1045.4,1046.7 L1050.4,1048.9 L1055.4,1051.1 L1060.4,1053.3 L1065.4,1055.5 L1070.4,1057.6 L1075.4,1059.8 L1080.4,1061.9 L1085.4,1064.1 L1090.5,1066.2 L1095.5,1068.3 L1100.5,1070.4 L1105.5,1072.6 L1110.5,1074.7 L1115.5,1076.8 L1120.5,1078.9 L1125.5,1080.9 L1130.5,1083.0 L1135.5,1085.1 L1140.5,1087.1 L1145.5,1089.2 L1150.6,1091.2 L1155.6,1093.3 L1160.6,1095.3 L1165.6,1097.3 L1170.6,1099.4 L1175.6,1101.4 L1180.6,1103.4 L1185.6,1105.4 L1190.6,1107.4 L1195.6,1109.3 L1200.6,1111.3 L1205.6,1113.3 L1210.7,1115.2 L1215.7,1117.2 L1220.7,1119.1 L1225.7,1121.0 L1230.7,1123.0 L1235.7,1124.9 L1240.7,1126.8 L1245.7,1128.7 L1250.7,1130.5 L1255.7,1132.4 L1260.7,1134.3 L1265.7,1136.1 L1270.8,1138.0 L1275.8,1139.8 L1280.8,1141.6 L1285.8,1143.5 L1290.8,1145.3 L1295.8,1147.1 L1300.8,1148.8 L1305.8,1150.6 L1310.8,1152.4 L1315.8,1154.1 L1320.8,1155.9 L1325.8,1157.6 L1330.8,1159.3 L1335.9,1161.0 L1340.9,1162.8 L1345.9,1164.4 L1350.9,1166.1 L1355.9,1167.8 L1360.9,1169.4 L1365.9,1171.1 L1370.9,1172.7 L1375.9,1174.4 L1380.9,1176.0 L1385.9,1177.6 L1390.9,1179.2 L1396.0,1180.8 L1401.0,1182.3 L1406.0,1183.9 L1411.0,1185.4 L1416.0,1187.0 L1421.0,1188.5 L1426.0,1190.0 L1431.0,1191.5 L1436.0,1193.0 L1441.0,1194.5 L1446.0,1196.0 L1451.0,1197.4 L1456.1,1198.9 L1461.1,1200.3 L1466.1,1201.7 L1471.1,1203.2 L1476.1,1204.6 L1481.1,1206.0 L1486.1,1207.4 L1491.1,1208.7 L1496.1,1210.1 L1501.1,1211.5 L1506.1,1212.8 L1511.1,1214.1 L1516.2,1215.4 L1521.2,1216.8 L1526.2,1218.1 L1531.2,1219.4 L1536.2,1220.6 L1541.2,1221.9 L1546.2,1223.2 L1551.2,1224.4 L1556.2,1225.7 L1561.2,1226.9 L1566.2,1228.1 L1571.2,1229.3 L1576.3,1230.5 L1581.3,1231.7 L1586.3,1232.9 L1591.3,1234.1 L1596.3,1235.2 L1601.3,1236.4 L1606.3,1237.5 L1611.3,1238.7 L1616.3,1239.8 L1621.3,1240.9 L1626.3,1242.0 L1631.3,1243.1 L1636.4,1244.2 L1641.4,1245.3 L1646.4,1246.3 L1651.4,1247.4 L1656.4,1248.5 L1661.4,1249.5 L1666.4,1250.5 L1671.4,1251.6 L1676.4,1252.6 L1681.4,1253.6 L1686.4,1254.6 L1691.4,1255.6 L1696.5,1256.6 L1701.5,1257.6 L1706.5,1258.5 L1711.5,1259.5 L1716.5,1260.4 L1721.5,1261.4 L1726.5,1262.3 L1731.5,1263.2 L1736.5,1264.2 L1741.5,1265.1 L1746.5,1266.0 L1751.5,1266.9 L1756.6,1267.8 L1761.6,1268.7 L1766.6,1269.5 L1771.6,1270.4 L1776.6,1271.3 L1781.6,1272.1 L1786.6,1273.0 L1791.6,1273.8 L1796.6,1274.7 L1801.6,1275.5 L1806.6,1276.3 L1811.6,1277.1 L1816.6,1277.9 L1821.7,1278.7 L1826.7,1279.5 L1831.7,1280.3 L1836.7,1281.1 L1841.7,1281.9 L1846.7,1282.6 L1851.7,1283.4 L1856.7,1284.2 L1861.7,1284.9 L1866.7,1285.7 L1871.7,1286.4" stroke="#D95319" stroke-width="13"/>
<path d="M252.5,1418.2 L255.7,1418.2 L258.8,1418.1 L262.0,1417.9 L265.2,1417.7 L268.3,1417.4 L271.5,1417.1 L274.6,1416.7 L277.8,1416.3 L281.0,1415.8 L284.1,1415.3 L287.3,1414.7 L290.5,1414.1 L293.6,1413.4 L296.8,1412.7 L299.9,1411.9 L303.1,1411.1 L306.3,1410.2 L309.4,1409.3 L312.6,1408.3 L315.8,1407.2 L318.9,1406.2 L322.1,1405.0 L325.2,1403.9 L328.4,1402.6 L331.6,1401.3 L334.7,1400.0 L337.9,1398.6 L341.0,1397.2 L344.2,1395.6 L347.4,1394.1 L350.5,1392.5 L353.7,1390.8 L356.9,1389.1 L360.0,1387.3 L363.2,1385.4 L366.3,1383.5 L369.5,1381.5 L372.7,1379.5 L375.8,1377.4 L379.0,1375.3 L382.2,1373.0 L385.3,1370.7 L388.5,1368.4 L391.6,1365.9 L394.8,1363.4 L398.0,1360.8 L401.1,1358.2 L404.3,1355.5 L407.4,1352.7 L410.6,1349.8 L413.8,1346.8 L416.9,1343.8 L420.1,1340.6 L423.3,1337.4 L426.4,1334.1 L429.6,1330.8 L432.7,1327.3 L435.9,1323.7 L439.1,1320.1 L439.1,1320.1 L439.7,1319.3 L440.3,1318.6 L440.9,1317.8 L441.6,1317.1 L442.2,1316.4 L442.8,1315.6 L443.4,1314.8 L444.1,1314.1 L444.7,1313.3 L445.3,1312.6 L445.9,1311.8 L446.6,1311.0 L447.2,1310.2 L447.8,1309.5 L448.4,1308.7 L449.1,1307.9 L449.7,1307.1 L450.3,1306.3 L450.9,1305.5 L451.5,1304.7 L452.2,1303.9 L452.8,1303.1 L453.4,1302.2 L454.0,1301.4 L454.7,1300.6 L455.3,1299.8 L455.9,1298.9 L456.5,1298.1 L457.2,1297.3 L457.8,1296.4 L458.4,1295.6 L459.0,1294.7 L459.7,1293.8 L460.3,1293.0 L460.9,1292.1 L461.5,1291.2 L462.2,1290.4 L462.8,1289.5 L463.4,1288.6 L464.0,1287.7 L464.6,1286.8 L465.3,1285.9 L465.9,1285.0 L466.5,1284.1 L467.1,1283.2 L467.8,1282.3 L468.4,1281.4 L469.0,1280.5 L469.6,1279.5 L470.3,1278.6 L470.9,1277.7 L471.5,1276.7 L472.1,1275.8 L472.8,1274.9 L473.4,1273.9 L474.0,1273.0 L474.6,1272.0 L475.2,1271.0 L475.9,1270.1 L476.5,1269.1 L477.1,1268.1 L477.7,1267.1 L478.4,1266.1 L479.0,1265.1 L479.6,1264.1 L480.2,1263.1 L480.9,1262.1 L481.5,1261.1 L482.1,1260.1 L482.7,1259.1 L483.4,1258.1 L484.0,1257.0 L484.6,1256.0 L485.2,1255.0 L485.9,1253.9 L486.5,1252.9 L487.1,1251.8 L487.7,1250.8 L488.3,1249.7 L489.0,1248.7 L489.6,1247.6 L490.2,1246.5 L490.8,1245.4 L491.5,1244.4 L492.1,1243.3 L492.7,1242.2 L493.3,1241.1 L494.0,1240.0 L494.6,1238.9 L495.2,1237.8 L495.8,1236.7 L496.5,1235.5 L497.1,1234.4 L497.7,1233.3 L498.3,1232.1 L499.0,1231.0 L499.6,1229.9 L500.2,1228.7 L500.8,1227.6 L501.4,1226.4 L502.1,1225.2 L502.7,1224.1 L503.3,1222.9 L503.9,1221.7 L504.6,1220.6 L505.2,1219.4 L505.8,1218.2 L506.4,1217.0 L507.1,1215.8 L507.7,1214.6 L508.3,1213.4 L508.9,1212.2 L509.6,1210.9 L510.2,1209.7 L510.8,1208.5 L511.4,1207.3 L512.1,1206.0 L512.7,1204.8 L513.3,1203.5 L513.9,1202.3 L514.5,1201.0 L515.2,1199.8 L515.8,1198.5 L516.4,1197.3 L517.0,1196.0 L517.7,1194.7 L518.3,1193.4 L518.9,1192.1 L519.5,1190.8 L520.2,1189.6 L520.8,1188.3 L521.4,1187.0 L522.0,1185.6 L522.7,1184.3 L523.3,1183.0 L523.9,1181.7 L524.5,1180.4 L525.2,1179.0 L525.8,1177.7 L526.4,1176.4 L527.0,1175.0 L527.6,1173.7 L528.3,1172.3 L528.9,1171.0 L529.5,1169.6 L530.1,1168.3 L530.8,1166.9 L531.4,1165.5 L532.0,1164.2 L532.6,1162.8 L533.3,1161.4 L533.9,1160.0 L534.5,1158.6 L535.1,1157.2 L535.8,1155.8 L536.4,1154.4 L537.0,1153.0 L537.6,1151.6 L538.3,1150.2 L538.9,1148.8 L539.5,1147.4 L540.1,1146.0 L540.7,1144.5 L541.4,1143.1 L542.0,1141.7 L542.6,1140.2 L543.2,1138.8 L543.9,1137.4 L544.5,1135.9 L545.1,1134.5 L545.7,1133.0 L546.4,1131.6 L547.0,1130.1 L547.6,1128.6 L548.2,1127.2 L548.9,1125.7 L549.5,1124.3 L550.1,1122.8 L550.7,1121.3 L551.4,1119.8 L552.0,1118.4 L552.6,1116.9 L553.2,1115.4 L553.8,1113.9 L554.5,1112.4 L555.1,1110.9 L555.7,1109.4 L556.3,1108.0 L557.0,1106.5 L557.6,1105.0 L558.2,1103.5 L558.8,1102.0 L559.5,1100.5 L560.1,1099.0 L560.7,1097.5 L561.3,1096.0 L562.0,1094.4 L562.6,1092.9 L563.2,1091.4 L563.8,1089.9 L564.5,1088.4 L565.1,1086.9 L565.7,1085.4 L566.3,1083.9 L566.9,1082.4 L567.6,1080.8 L568.2,1079.3 L568.8,1077.8 L569.4,1076.3 L570.1,1074.8 L570.7,1073.3 L571.3,1071.8 L571.9,1070.2 L572.6,1068.7 L573.2,1067.2 L573.8,1065.7 L574.4,1064.2 L575.1,1062.7 L575.7,1061.2 L576.3,1059.6 L576.9,1058.1 L577.6,1056.6 L578.2,1055.1 L578.8,1053.6 L579.4,1052.1 L580.0,1050.6 L580.7,1049.1 L581.3,1047.6 L581.9,1046.1 L582.5,1044.6 L583.2,1043.1 L583.8,1041.6 L584.4,1040.1 L585.0,1038.6 L585.7,1037.1 L586.3,1035.7 L586.9,1034.2 L587.5,1032.7 L588.2,1031.2 L588.8,1029.7 L589.4,1028.3 L590.0,1026.8 L590.7,1025.3 L591.3,1023.9 L591.9,1022.4 L592.5,1021.0 L593.1,1019.5 L593.8,1018.1 L594.4,1016.6 L595.0,1015.2 L595.6,1013.8 L596.3,1012.4 L596.9,1010.9 L597.5,1009.5 L598.1,1008.1 L598.8,1006.7 L599.4,1005.3 L600.0,1003.9 L600.6,1002.5 L601.3,1001.1 L601.9,999.7 L602.5,998.3 L603.1,997.0 L603.8,995.6 L604.4,994.2 L605.0,992.9 L605.6,991.5 L606.2,990.2 L606.9,988.9 L607.5,987.5 L608.1,986.2 L608.7,984.9 L609.4,983.6 L610.0,982.3 L610.6,981.0 L611.2,979.7 L611.9,978.4 L612.5,977.1 L613.1,975.9 L613.7,974.6 L614.4,973.3 L615.0,972.1 L615.6,970.9 L616.2,969.6 L616.9,968.4 L617.5,967.2 L618.1,966.0 L618.7,964.8 L619.3,963.6 L620.0,962.4 L620.6,961.2 L621.2,960.1 L621.8,958.9 L622.5,957.8 L623.1,956.6 L623.7,955.5 L624.3,954.4 L625.0,953.3 L625.6,952.1 L626.2,951.0 L626.8,950.0 L627.5,948.9 L628.1,947.8 L628.7,946.8 L629.3,945.7 L630.0,944.7 L630.6,943.6 L631.2,942.6 L631.8,941.6 L632.4,940.6 L633.1,939.6 L633.7,938.6 L634.3,937.6 L634.9,936.7 L635.6,935.7 L636.2,934.8 L636.8,933.8 L637.4,932.9 L638.1,932.0 L638.7,931.1 L639.3,930.2 L639.9,929.3 L640.6,928.4 L641.2,927.6 L641.8,926.7 L642.4,925.9 L643.0,925.0 L643.7,924.2 L644.3,923.4 L644.9,922.6 L645.5,921.8 L646.2,921.0 L646.8,920.2 L647.4,919.5 L648.0,918.7 L648.7,918.0 L649.3,917.2 L649.9,916.5 L650.5,915.8 L651.2,915.1 L651.8,914.4 L652.4,913.7 L653.0,913.1 L653.7,912.4 L654.3,911.7 L654.9,911.1 L655.5,910.5 L656.1,909.9 L656.8,909.2 L657.4,908.6 L658.0,908.0 L658.6,907.5 L659.3,906.9 L659.9,906.3 L660.5,905.8 L661.1,905.2 L661.8,904.7 L662.4,904.2 L663.0,903.7 L663.6,903.2 L664.3,902.7 L664.9,902.2 L665.5,901.7 L666.1,901.2 L666.8,900.8 L667.4,900.3 L668.0,899.9 L668.6,899.5 L669.2,899.1 L669.9,898.7 L670.5,898.3 L671.1,897.9 L671.7,897.5 L672.4,897.1 L673.0,896.8 L673.6,896.4 L674.2,896.1 L674.9,895.7 L675.5,895.4 L676.1,895.1 L676.7,894.8 L677.4,894.5 L678.0,894.2 L678.6,893.9 L679.2,893.6 L679.9,893.4 L680.5,893.1 L681.1,892.8 L681.7,892.6 L682.3,892.4 L683.0,892.1 L683.6,891.9 L684.2,891.7 L684.8,891.5 L685.5,891.3 L686.1,891.1 L686.7,891.0 L687.3,890.8 L688.0,890.6 L688.6,890.5 L689.2,890.3 L689.8,890.2 L690.5,890.0 L691.1,889.9 L691.7,889.8 L692.3,889.7 L693.0,889.6 L693.6,889.5 L694.2,889.4 L694.8,889.3 L695.4,889.2 L696.1,889.2 L696.7,889.1 L697.3,889.0 L697.9,889.0 L698.6,888.9 L699.2,888.9 L699.8,888.9 L700.4,888.8 L701.1,888.8 L701.7,888.8 L702.3,888.8 L702.9,888.8 L703.6,888.8 L704.2,888.8 L704.8,888.8 L705.4,888.8 L706.1,888.9 L706.7,888.9 L707.3,888.9 L707.9,889.0 L708.5,889.0 L709.2,889.1 L709.8,889.1 L710.4,889.2 L711.0,889.3 L711.7,889.3 L712.3,889.4 L712.9,889.5 L713.5,889.6 L714.2,889.7 L714.8,889.8 L715.4,889.9 L716.0,890.0 L716.7,890.1 L717.3,890.2 L717.9,890.3 L718.5,890.5 L719.2,890.6 L719.8,890.7 L720.4,890.9 L721.0,891.0 L721.6,891.1 L722.3,891.3 L722.9,891.4 L723.5,891.6 L724.1,891.8 L724.8,891.9 L725.4,892.1 L726.0,892.3 L726.6,892.4 L727.3,892.6 L727.9,892.8 L728.5,893.0 L729.1,893.2 L729.8,893.3 L730.4,893.5 L731.0,893.7 L731.6,893.9 L732.3,894.1 L732.9,894.3 L733.5,894.6 L734.1,894.8 L734.7,895.0 L735.4,895.2 L736.0,895.4 L736.6,895.6 L737.2,895.9 L737.9,896.1 L738.5,896.3 L739.1,896.6 L739.7,896.8 L740.4,897.0 L741.0,897.3 L741.6,897.5 L742.2,897.8 L742.9,898.0 L743.5,898.3 L744.1,898.5 L744.7,898.8 L745.4,899.0 L746.0,899.3 L746.6,899.5 L747.2,899.8 L747.8,900.1 L748.5,900.3 L749.1,900.6 L749.7,900.9 L750.3,901.1 L751.0,901.4 L751.6,901.7 L752.2,902.0 L752.8,902.2 L753.5,902.5 L754.1,902.8 L754.7,903.1 L755.3,903.4 L756.0,903.6 L756.6,903.9 L757.2,904.2 L757.8,904.5 L758.5,904.8 L759.1,905.1 L759.7,905.4 L760.3,905.7 L760.9,906.0 L761.6,906.3 L762.2,906.6 L762.8,906.9 L763.4,907.2 L764.1,907.5 L764.7,907.8 L765.3,908.1 L765.9,908.4 L766.6,908.7 L767.2,909.0 L767.8,909.3 L768.4,909.6 L769.1,909.9 L769.7,910.2 L770.3,910.5 L770.9,910.8 L771.6,911.1 L772.2,911.5 L772.8,911.8 L773.4,912.1 L774.0,912.4 L774.7,912.7 L775.3,913.0 L775.9,913.3 L776.5,913.7 L777.2,914.0 L777.8,914.3 L778.4,914.6 L779.0,914.9 L779.7,915.2 L780.3,915.6 L780.9,915.9 L781.5,916.2 L782.2,916.5 L782.8,916.8 L783.4,917.2 L784.0,917.5 L784.7,917.8 L785.3,918.1 L785.9,918.4 L786.5,918.8 L787.1,919.1 L787.8,919.4 L788.4,919.7 L789.0,920.1 L789.6,920.4 L790.3,920.7 L790.9,921.0 L791.5,921.3 L792.1,921.7 L792.8,922.0 L793.4,922.3 L794.0,922.6 L794.6,923.0 L795.3,923.3 L795.9,923.6 L796.5,923.9 L797.1,924.3 L797.7,924.6 L798.4,924.9 L799.0,925.2 L799.6,925.5 L800.2,925.9 L800.9,926.2 L801.5,926.5 L802.1,926.8 L802.7,927.2 L803.4,927.5 L804.0,927.8 L804.6,928.1 L805.2,928.4 L805.9,928.8 L806.5,929.1 L807.1,929.4 L807.7,929.7 L808.4,930.1 L809.0,930.4 L809.6,930.7 L810.2,931.0 L810.8,931.3 L811.5,931.7 L812.1,932.0 L812.7,932.3 L813.3,932.6 L814.0,932.9 L814.6,933.3 L815.2,933.6 L815.8,933.9 L816.5,934.2 L817.1,934.5 L817.7,934.8 L818.3,935.2 L819.0,935.5 L819.6,935.8 L820.2,936.1 L820.8,936.4 L821.5,936.7 L822.1,937.0 L822.7,937.4 L823.3,937.7 L823.9,938.0 L824.6,938.3 L825.2,938.6 L825.8,938.9 L826.4,939.2 L827.1,939.5 L827.7,939.9 L828.3,940.2 L828.9,940.5 L829.6,940.8 L830.2,941.1 L830.8,941.4 L831.4,941.7 L832.1,942.0 L832.7,942.3 L833.3,942.6 L833.9,942.9 L834.6,943.2 L835.2,943.5 L835.8,943.8 L836.4,944.1 L837.0,944.5 L837.7,944.8 L838.3,945.1 L838.9,945.4 L839.5,945.7 L840.2,946.0 L840.8,946.3 L841.4,946.6 L842.0,946.9 L842.7,947.2 L843.3,947.5 L843.9,947.8 L844.5,948.1 L845.2,948.3 L845.8,948.6 L846.4,948.9 L847.0,949.2 L847.7,949.5 L848.3,949.8 L848.9,950.1 L849.5,950.4 L850.1,950.7 L850.8,951.0 L851.4,951.3 L852.0,951.6 L852.6,951.9 L853.3,952.1 L853.9,952.4 L854.5,952.7 L855.1,953.0 L855.8,953.3 L856.4,953.6 L857.0,953.9 L857.6,954.2 L858.3,954.4 L858.9,954.7 L859.5,955.0 L860.1,955.3 L860.8,955.6 L861.4,955.9 L862.0,956.1 L862.6,956.4 L863.2,956.7 L863.9,957.0 L864.5,957.3 L865.1,957.5 L865.7,957.8 L866.4,958.1 L867.0,958.4 L867.6,958.6 L868.2,958.9 L868.9,959.2 L869.5,959.5 L870.1,959.7 L870.7,960.0 L871.4,960.3 L872.0,960.6 L872.6,960.8 L873.2,961.1 L873.9,961.4 L874.5,961.6 L875.1,961.9 L880.1,964.6 L885.1,967.3 L890.1,970.0 L895.1,972.5 L900.1,975.0 L905.1,977.5 L910.2,979.9 L915.2,982.2 L920.2,984.5 L925.2,986.8 L930.2,989.0 L935.2,991.2 L940.2,993.4 L945.2,995.5 L950.2,997.6 L955.2,999.6 L960.2,1001.7 L965.2,1003.7 L970.3,1005.7 L975.3,1007.6 L980.3,1009.5 L985.3,1011.5 L990.3,1013.3 L995.3,1015.2 L1000.3,1017.1 L1005.3,1018.9 L1010.3,1020.7 L1015.3,1022.5 L1020.3,1024.3 L1025.3,1026.1 L1030.4,1027.9 L1035.4,1029.6 L1040.4,1031.3 L1045.4,1033.1 L1050.4,1034.8 L1055.4,1036.5 L1060.4,1038.2 L1065.4,1039.9 L1070.4,1041.6 L1075.4,1043.3 L1080.4,1044.9 L1085.4,1046.6 L1090.5,1048.3 L1095.5,1049.9 L1100.5,1051.6 L1105.5,1053.2 L1110.5,1054.9 L1115.5,1056.5 L1120.5,1058.1 L1125.5,1059.8 L1130.5,1061.4 L1135.5,1063.0 L1140.5,1064.6 L1145.5,1066.2 L1150.6,1067.8 L1155.6,1069.5 L1160.6,1071.1 L1165.6,1072.7 L1170.6,1074.3 L1175.6,1075.9 L1180.6,1077.5 L1185.6,1079.0 L1190.6,1080.6 L1195.6,1082.2 L1200.6,1083.8 L1205.6,1085.4 L1210.7,1087.0 L1215.7,1088.5 L1220.7,1090.1 L1225.7,1091.7 L1230.7,1093.3 L1235.7,1094.8 L1240.7,1096.4 L1245.7,1098.0 L1250.7,1099.5 L1255.7,1101.1 L1260.7,1102.6 L1265.7,1104.2 L1270.8,1105.7 L1275.8,1107.3 L1280.8,1108.8 L1285.8,1110.4 L1290.8,1111.9 L1295.8,1113.4 L1300.8,1115.0 L1305.8,1116.5 L1310.8,1118.0 L1315.8,1119.5 L1320.8,1121.0 L1325.8,1122.6 L1330.8,1124.1 L1335.9,1125.6 L1340.9,1127.1 L1345.9,1128.6 L1350.9,1130.1 L1355.9,1131.5 L1360.9,1133.0 L1365.9,1134.5 L1370.9,1136.0 L1375.9,1137.5 L1380.9,1138.9 L1385.9,1140.4 L1390.9,1141.8 L1396.0,1143.3 L1401.0,1144.7 L1406.0,1146.2 L1411.0,1147.6 L1416.0,1149.1 L1421.0,1150.5 L1426.0,1151.9 L1431.0,1153.3 L1436.0,1154.7 L1441.0,1156.1 L1446.0,1157.5 L1451.0,1158.9 L1456.1,1160.3 L1461.1,1161.7 L1466.1,1163.1 L1471.1,1164.5 L1476.1,1165.8 L1481.1,1167.2 L1486.1,1168.5 L1491.1,1169.9 L1496.1,1171.2 L1501.1,1172.5 L1506.1,1173.9 L1511.1,1175.2 L1516.2,1176.5 L1521.2,1177.8 L1526.2,1179.1 L1531.2,1180.4 L1536.2,1181.7 L1541.2,1183.0 L1546.2,1184.3 L1551.2,1185.5 L1556.2,1186.8 L1561.2,1188.1 L1566.2,1189.3 L1571.2,1190.6 L1576.3,1191.8 L1581.3,1193.0 L1586.3,1194.2 L1591.3,1195.5 L1596.3,1196.7 L1601.3,1197.9 L1606.3,1199.1 L1611.3,1200.3 L1616.3,1201.4 L1621.3,1202.6 L1626.3,1203.8 L1631.3,1204.9 L1636.4,1206.1 L1641.4,1207.3 L1646.4,1208.4 L1651.4,1209.5 L1656.4,1210.7 L1661.4,1211.8 L1666.4,1212.9 L1671.4,1214.0 L1676.4,1215.1 L1681.4,1216.2 L1686.4,1217.3 L1691.4,1218.4 L1696.5,1219.4 L1701.5,1220.5 L1706.5,1221.6 L1711.5,1222.6 L1716.5,1223.7 L1721.5,1224.7 L1726.5,1225.8 L1731.5,1226.8 L1736.5,1227.8 L1741.5,1228.8 L1746.5,1229.8 L1751.5,1230.8 L1756.6,1231.8 L1761.6,1232.8 L1766.6,1233.8 L1771.6,1234.8 L1776.6,1235.7 L1781.6,1236.7 L1786.6,1237.7 L1791.6,1238.6 L1796.6,1239.6 L1801.6,1240.5 L1806.6,1241.4 L1811.6,1242.4 L1816.6,1243.3 L1821.7,1244.2 L1826.7,1245.1 L1831.7,1246.0 L1836.7,1246.9 L1841.7,1247.8 L1846.7,1248.7 L1851.7,1249.6 L1856.7,1250.4 L1861.7,1251.3 L1866.7,1252.2 L1871.7,1253.0" stroke="#EDB120" stroke-width="13"/>
<path d="M252.5,1418.2 L255.7,1418.2 L258.8,1418.1 L262.0,1417.9 L265.2,1417.7 L268.3,1417.4 L271.5,1417.0 L274.6,1416.6 L277.8,1416.2 L281.0,1415.6 L284.1,1415.0 L287.3,1414.4 L290.5,1413.7 L293.6,1412.9 L296.8,1412.1 L299.9,1411.2 L303.1,1410.2 L306.3,1409.2 L309.4,1408.1 L312.6,1406.9 L315.8,1405.7 L318.9,1404.4 L322.1,1403.0 L325.2,1401.6 L328.4,1400.1 L331.6,1398.5 L334.7,1396.8 L337.9,1395.1 L341.0,1393.3 L344.2,1391.4 L347.4,1389.4 L350.5,1387.4 L353.7,1385.2 L356.9,1383.0 L360.0,1380.7 L363.2,1378.2 L366.3,1375.7 L369.5,1373.1 L372.7,1370.4 L375.8,1367.6 L379.0,1364.7 L382.2,1361.7 L385.3,1358.6 L388.5,1355.3 L391.6,1351.9 L394.8,1348.5 L398.0,1344.8 L401.1,1341.1 L404.3,1337.2 L407.4,1333.2 L410.6,1329.0 L413.8,1324.7 L416.9,1320.2 L420.1,1315.6 L423.3,1310.8 L426.4,1305.9 L429.6,1300.7 L432.7,1295.4 L435.9,1289.9 L439.1,1284.2 L439.1,1284.2 L439.7,1283.0 L440.3,1281.9 L440.9,1280.7 L441.6,1279.5 L442.2,1278.3 L442.8,1277.2 L443.4,1276.0 L444.1,1274.8 L444.7,1273.5 L445.3,1272.3 L445.9,1271.1 L446.6,1269.8 L447.2,1268.6 L447.8,1267.3 L448.4,1266.1 L449.1,1264.8 L449.7,1263.5 L450.3,1262.2 L450.9,1260.9 L451.5,1259.6 L452.2,1258.3 L452.8,1257.0 L453.4,1255.6 L454.0,1254.3 L454.7,1252.9 L455.3,1251.6 L455.9,1250.2 L456.5,1248.8 L457.2,1247.4 L457.8,1246.0 L458.4,1244.6 L459.0,1243.2 L459.7,1241.7 L460.3,1240.3 L460.9,1238.8 L461.5,1237.4 L462.2,1235.9 L462.8,1234.4 L463.4,1232.9 L464.0,1231.4 L464.6,1229.9 L465.3,1228.4 L465.9,1226.9 L466.5,1225.3 L467.1,1223.8 L467.8,1222.2 L468.4,1220.6 L469.0,1219.1 L469.6,1217.5 L470.3,1215.8 L470.9,1214.2 L471.5,1212.6 L472.1,1211.0 L472.8,1209.3 L473.4,1207.6 L474.0,1206.0 L474.6,1204.3 L475.2,1202.6 L475.9,1200.9 L476.5,1199.2 L477.1,1197.4 L477.7,1195.7 L478.4,1193.9 L479.0,1192.2 L479.6,1190.4 L480.2,1188.6 L480.9,1186.8 L481.5,1185.0 L482.1,1183.2 L482.7,1181.3 L483.4,1179.5 L484.0,1177.6 L484.6,1175.8 L485.2,1173.9 L485.9,1172.0 L486.5,1170.1 L487.1,1168.2 L487.7,1166.2 L488.3,1164.3 L489.0,1162.3 L489.6,1160.3 L490.2,1158.4 L490.8,1156.4 L491.5,1154.4 L492.1,1152.3 L492.7,1150.3 L493.3,1148.3 L494.0,1146.2 L494.6,1144.1 L495.2,1142.0 L495.8,1139.9 L496.5,1137.8 L497.1,1135.7 L497.7,1133.6 L498.3,1131.4 L499.0,1129.3 L499.6,1127.1 L500.2,1124.9 L500.8,1122.7 L501.4,1120.5 L502.1,1118.2 L502.7,1116.0 L503.3,1113.7 L503.9,1111.5 L504.6,1109.2 L505.2,1106.9 L505.8,1104.6 L506.4,1102.3 L507.1,1099.9 L507.7,1097.6 L508.3,1095.2 L508.9,1092.9 L509.6,1090.5 L510.2,1088.1 L510.8,1085.7 L511.4,1083.3 L512.1,1080.8 L512.7,1078.4 L513.3,1075.9 L513.9,1073.4 L514.5,1071.0 L515.2,1068.5 L515.8,1065.9 L516.4,1063.4 L517.0,1060.9 L517.7,1058.3 L518.3,1055.8 L518.9,1053.2 L519.5,1050.6 L520.2,1048.0 L520.8,1045.4 L521.4,1042.8 L522.0,1040.2 L522.7,1037.5 L523.3,1034.9 L523.9,1032.2 L524.5,1029.6 L525.2,1026.9 L525.8,1024.2 L526.4,1021.5 L527.0,1018.8 L527.6,1016.0 L528.3,1013.3 L528.9,1010.6 L529.5,1007.8 L530.1,1005.0 L530.8,1002.3 L531.4,999.5 L532.0,996.7 L532.6,993.9 L533.3,991.1 L533.9,988.3 L534.5,985.5 L535.1,982.7 L535.8,979.8 L536.4,977.0 L537.0,974.1 L537.6,971.3 L538.3,968.4 L538.9,965.6 L539.5,962.7 L540.1,959.8 L540.7,957.0 L541.4,954.1 L542.0,951.2 L542.6,948.3 L543.2,945.4 L543.9,942.5 L544.5,939.7 L545.1,936.8 L545.7,933.9 L546.4,931.0 L547.0,928.1 L547.6,925.2 L548.2,922.3 L548.9,919.4 L549.5,916.5 L550.1,913.6 L550.7,910.7 L551.4,907.8 L552.0,905.0 L552.6,902.1 L553.2,899.2 L553.8,896.3 L554.5,893.5 L555.1,890.6 L555.7,887.8 L556.3,884.9 L557.0,882.1 L557.6,879.3 L558.2,876.5 L558.8,873.7 L559.5,870.9 L560.1,868.1 L560.7,865.3 L561.3,862.5 L562.0,859.8 L562.6,857.0 L563.2,854.3 L563.8,851.6 L564.5,848.9 L565.1,846.2 L565.7,843.6 L566.3,840.9 L566.9,838.3 L567.6,835.6 L568.2,833.0 L568.8,830.5 L569.4,827.9 L570.1,825.4 L570.7,822.8 L571.3,820.3 L571.9,817.9 L572.6,815.4 L573.2,813.0 L573.8,810.5 L574.4,808.1 L575.1,805.8 L575.7,803.4 L576.3,801.1 L576.9,798.8 L577.6,796.6 L578.2,794.3 L578.8,792.1 L579.4,789.9 L580.0,787.8 L580.7,785.6 L581.3,783.5 L581.9,781.4 L582.5,779.4 L583.2,777.4 L583.8,775.4 L584.4,773.4 L585.0,771.5 L585.7,769.6 L586.3,767.8 L586.9,765.9 L587.5,764.1 L588.2,762.4 L588.8,760.6 L589.4,758.9 L590.0,757.3 L590.7,755.6 L591.3,754.0 L591.9,752.5 L592.5,750.9 L593.1,749.4 L593.8,748.0 L594.4,746.5 L595.0,745.1 L595.6,743.8 L596.3,742.5 L596.9,741.2 L597.5,739.9 L598.1,738.7 L598.8,737.5 L599.4,736.3 L600.0,735.2 L600.6,734.1 L601.3,733.1 L601.9,732.0 L602.5,731.1 L603.1,730.1 L603.8,729.2 L604.4,728.3 L605.0,727.5 L605.6,726.6 L606.2,725.9 L606.9,725.1 L607.5,724.4 L608.1,723.7 L608.7,723.1 L609.4,722.5 L610.0,721.9 L610.6,721.3 L611.2,720.8 L611.9,720.3 L612.5,719.8 L613.1,719.4 L613.7,719.0 L614.4,718.7 L615.0,718.3 L615.6,718.0 L616.2,717.7 L616.9,717.5 L617.5,717.3 L618.1,717.1 L618.7,716.9 L619.3,716.8 L620.0,716.7 L620.6,716.6 L621.2,716.5 L621.8,716.5 L622.5,716.5 L623.1,716.5 L623.7,716.6 L624.3,716.6 L625.0,716.7 L625.6,716.8 L626.2,717.0 L626.8,717.2 L627.5,717.3 L628.1,717.6 L628.7,717.8 L629.3,718.0 L630.0,718.3 L630.6,718.6 L631.2,718.9 L631.8,719.3 L632.4,719.6 L633.1,720.0 L633.7,720.4 L634.3,720.8 L634.9,721.2 L635.6,721.7 L636.2,722.1 L636.8,722.6 L637.4,723.1 L638.1,723.6 L638.7,724.2 L639.3,724.7 L639.9,725.3 L640.6,725.8 L641.2,726.4 L641.8,727.0 L642.4,727.6 L643.0,728.3 L643.7,728.9 L644.3,729.6 L644.9,730.2 L645.5,730.9 L646.2,731.6 L646.8,732.3 L647.4,733.0 L648.0,733.7 L648.7,734.4 L649.3,735.2 L649.9,735.9 L650.5,736.7 L651.2,737.5 L651.8,738.2 L652.4,739.0 L653.0,739.8 L653.7,740.6 L654.3,741.4 L654.9,742.3 L655.5,743.1 L656.1,743.9 L656.8,744.7 L657.4,745.6 L658.0,746.4 L658.6,747.3 L659.3,748.2 L659.9,749.0 L660.5,749.9 L661.1,750.8 L661.8,751.7 L662.4,752.5 L663.0,753.4 L663.6,754.3 L664.3,755.2 L664.9,756.1 L665.5,757.0 L666.1,757.9 L666.8,758.9 L667.4,759.8 L668.0,760.7 L668.6,761.6 L669.2,762.5 L669.9,763.5 L670.5,764.4 L671.1,765.3 L671.7,766.2 L672.4,767.2 L673.0,768.1 L673.6,769.0 L674.2,770.0 L674.9,770.9 L675.5,771.9 L676.1,772.8 L676.7,773.7 L677.4,774.7 L678.0,775.6 L678.6,776.6 L679.2,777.5 L679.9,778.4 L680.5,779.4 L681.1,780.3 L681.7,781.3 L682.3,782.2 L683.0,783.2 L683.6,784.1 L684.2,785.0 L684.8,786.0 L685.5,786.9 L686.1,787.8 L686.7,788.8 L687.3,789.7 L688.0,790.7 L688.6,791.6 L689.2,792.5 L689.8,793.4 L690.5,794.4 L691.1,795.3 L691.7,796.2 L692.3,797.2 L693.0,798.1 L693.6,799.0 L694.2,799.9 L694.8,800.8 L695.4,801.8 L696.1,802.7 L696.7,803.6 L697.3,804.5 L697.9,805.4 L698.6,806.3 L699.2,807.2 L699.8,808.1 L700.4,809.0 L701.1,809.9 L701.7,810.8 L702.3,811.7 L702.9,812.6 L703.6,813.5 L704.2,814.3 L704.8,815.2 L705.4,816.1 L706.1,817.0 L706.7,817.9 L707.3,818.7 L707.9,819.6 L708.5,820.5 L709.2,821.3 L709.8,822.2 L710.4,823.1 L711.0,823.9 L711.7,824.8 L712.3,825.6 L712.9,826.5 L713.5,827.3 L714.2,828.1 L714.8,829.0 L715.4,829.8 L716.0,830.7 L716.7,831.5 L717.3,832.3 L717.9,833.1 L718.5,834.0 L719.2,834.8 L719.8,835.6 L720.4,836.4 L721.0,837.2 L721.6,838.0 L722.3,838.8 L722.9,839.6 L723.5,840.4 L724.1,841.2 L724.8,842.0 L725.4,842.8 L726.0,843.6 L726.6,844.4 L727.3,845.1 L727.9,845.9 L728.5,846.7 L729.1,847.5 L729.8,848.2 L730.4,849.0 L731.0,849.8 L731.6,850.5 L732.3,851.3 L732.9,852.0 L733.5,852.8 L734.1,853.5 L734.7,854.3 L735.4,855.0 L736.0,855.7 L736.6,856.5 L737.2,857.2 L737.9,857.9 L738.5,858.7 L739.1,859.4 L739.7,860.1 L740.4,860.8 L741.0,861.5 L741.6,862.2 L742.2,862.9 L742.9,863.7 L743.5,864.4 L744.1,865.1 L744.7,865.7 L745.4,866.4 L746.0,867.1 L746.6,867.8 L747.2,868.5 L747.8,869.2 L748.5,869.9 L749.1,870.5 L749.7,871.2 L750.3,871.9 L751.0,872.5 L751.6,873.2 L752.2,873.9 L752.8,874.5 L753.5,875.2 L754.1,875.8 L754.7,876.5 L755.3,877.1 L756.0,877.8 L756.6,878.4 L757.2,879.1 L757.8,879.7 L758.5,880.3 L759.1,881.0 L759.7,881.6 L760.3,882.2 L760.9,882.8 L761.6,883.5 L762.2,884.1 L762.8,884.7 L763.4,885.3 L764.1,885.9 L764.7,886.5 L765.3,887.1 L765.9,887.7 L766.6,888.3 L767.2,888.9 L767.8,889.5 L768.4,890.1 L769.1,890.7 L769.7,891.3 L770.3,891.9 L770.9,892.4 L771.6,893.0 L772.2,893.6 L772.8,894.2 L773.4,894.7 L774.0,895.3 L774.7,895.9 L775.3,896.4 L775.9,897.0 L776.5,897.6 L777.2,898.1 L777.8,898.7 L778.4,899.2 L779.0,899.8 L779.7,900.3 L780.3,900.9 L780.9,901.4 L781.5,901.9 L782.2,902.5 L782.8,903.0 L783.4,903.5 L784.0,904.1 L784.7,904.6 L785.3,905.1 L785.9,905.7 L786.5,906.2 L787.1,906.7 L787.8,907.2 L788.4,907.7 L789.0,908.2 L789.6,908.7 L790.3,909.3 L790.9,909.8 L791.5,910.3 L792.1,910.8 L792.8,911.3 L793.4,911.8 L794.0,912.3 L794.6,912.8 L795.3,913.2 L795.9,913.7 L796.5,914.2 L797.1,914.7 L797.7,915.2 L798.4,915.7 L799.0,916.1 L799.6,916.6 L800.2,917.1 L800.9,917.6 L801.5,918.0 L802.1,918.5 L802.7,919.0 L803.4,919.4 L804.0,919.9 L804.6,920.4 L805.2,920.8 L805.9,921.3 L806.5,921.7 L807.1,922.2 L807.7,922.6 L808.4,923.1 L809.0,923.5 L809.6,924.0 L810.2,924.4 L810.8,924.9 L811.5,925.3 L812.1,925.7 L812.7,926.2 L813.3,926.6 L814.0,927.0 L814.6,927.5 L815.2,927.9 L815.8,928.3 L816.5,928.7 L817.1,929.2 L817.7,929.6 L818.3,930.0 L819.0,930.4 L819.6,930.8 L820.2,931.3 L820.8,931.7 L821.5,932.1 L822.1,932.5 L822.7,932.9 L823.3,933.3 L823.9,933.7 L824.6,934.1 L825.2,934.5 L825.8,934.9 L826.4,935.3 L827.1,935.7 L827.7,936.1 L828.3,936.5 L828.9,936.9 L829.6,937.3 L830.2,937.7 L830.8,938.0 L831.4,938.4 L832.1,938.8 L832.7,939.2 L833.3,939.6 L833.9,940.0 L834.6,940.3 L835.2,940.7 L835.8,941.1 L836.4,941.5 L837.0,941.8 L837.7,942.2 L838.3,942.6 L838.9,942.9 L839.5,943.3 L840.2,943.7 L840.8,944.0 L841.4,944.4 L842.0,944.7 L842.7,945.1 L843.3,945.5 L843.9,945.8 L844.5,946.2 L845.2,946.5 L845.8,946.9 L846.4,947.2 L847.0,947.6 L847.7,947.9 L848.3,948.3 L848.9,948.6 L849.5,948.9 L850.1,949.3 L850.8,949.6 L851.4,950.0 L852.0,950.3 L852.6,950.6 L853.3,951.0 L853.9,951.3 L854.5,951.6 L855.1,952.0 L855.8,952.3 L856.4,952.6 L857.0,952.9 L857.6,953.3 L858.3,953.6 L858.9,953.9 L859.5,954.2 L860.1,954.6 L860.8,954.9 L861.4,955.2 L862.0,955.5 L862.6,955.8 L863.2,956.1 L863.9,956.5 L864.5,956.8 L865.1,957.1 L865.7,957.4 L866.4,957.7 L867.0,958.0 L867.6,958.3 L868.2,958.6 L868.9,958.9 L869.5,959.2 L870.1,959.5 L870.7,959.8 L871.4,960.1 L872.0,960.4 L872.6,960.7 L873.2,961.0 L873.9,961.3 L874.5,961.6 L875.1,961.9 L880.1,964.4 L885.1,966.9 L890.1,969.3 L895.1,971.6 L900.1,973.9 L905.1,976.1 L910.2,978.2 L915.2,980.3 L920.2,982.3 L925.2,984.3 L930.2,986.2 L935.2,988.1 L940.2,989.9 L945.2,991.7 L950.2,993.4 L955.2,995.1 L960.2,996.8 L965.2,998.4 L970.3,1000.0 L975.3,1001.5 L980.3,1003.1 L985.3,1004.6 L990.3,1006.0 L995.3,1007.5 L1000.3,1008.9 L1005.3,1010.3 L1010.3,1011.6 L1015.3,1013.0 L1020.3,1014.3 L1025.3,1015.6 L1030.4,1016.9 L1035.4,1018.1 L1040.4,1019.4 L1045.4,1020.6 L1050.4,1021.8 L1055.4,1023.0 L1060.4,1024.2 L1065.4,1025.3 L1070.4,1026.5 L1075.4,1027.6 L1080.4,1028.7 L1085.4,1029.8 L1090.5,1030.9 L1095.5,1032.0 L1100.5,1033.1 L1105.5,1034.1 L1110.5,1035.2 L1115.5,1036.2 L1120.5,1037.3 L1125.5,1038.3 L1130.5,1039.3 L1135.5,1040.3 L1140.5,1041.3 L1145.5,1042.3 L1150.6,1043.3 L1155.6,1044.3 L1160.6,1045.3 L1165.6,1046.3 L1170.6,1047.2 L1175.6,1048.2 L1180.6,1049.2 L1185.6,1050.1 L1190.6,1051.1 L1195.6,1052.0 L1200.6,1053.0 L1205.6,1053.9 L1210.7,1054.9 L1215.7,1055.8 L1220.7,1056.7 L1225.7,1057.7 L1230.7,1058.6 L1235.7,1059.5 L1240.7,1060.5 L1245.7,1061.4 L1250.7,1062.3 L1255.7,1063.2 L1260.7,1064.1 L1265.7,1065.1 L1270.8,1066.0 L1275.8,1066.9 L1280.8,1067.8 L1285.8,1068.7 L1290.8,1069.6 L1295.8,1070.6 L1300.8,1071.5 L1305.8,1072.4 L1310.8,1073.3 L1315.8,1074.2 L1320.8,1075.1 L1325.8,1076.0 L1330.8,1076.9 L1335.9,1077.9 L1340.9,1078.8 L1345.9,1079.7 L1350.9,1080.6 L1355.9,1081.5 L1360.9,1082.4 L1365.9,1083.3 L1370.9,1084.3 L1375.9,1085.2 L1380.9,1086.1 L1385.9,1087.0 L1390.9,1087.9 L1396.0,1088.9 L1401.0,1089.8 L1406.0,1090.7 L1411.0,1091.6 L1416.0,1092.5 L1421.0,1093.5 L1426.0,1094.4 L1431.0,1095.3 L1436.0,1096.2 L1441.0,1097.2 L1446.0,1098.1 L1451.0,1099.0 L1456.1,1099.9 L1461.1,1100.9 L1466.1,1101.8 L1471.1,1102.7 L1476.1,1103.7 L1481.1,1104.6 L1486.1,1105.5 L1491.1,1106.5 L1496.1,1107.4 L1501.1,1108.3 L1506.1,1109.3 L1511.1,1110.2 L1516.2,1111.1 L1521.2,1112.1 L1526.2,1113.0 L1531.2,1113.9 L1536.2,1114.9 L1541.2,1115.8 L1546.2,1116.8 L1551.2,1117.7 L1556.2,1118.6 L1561.2,1119.6 L1566.2,1120.5 L1571.2,1121.5 L1576.3,1122.4 L1581.3,1123.3 L1586.3,1124.3 L1591.3,1125.2 L1596.3,1126.2 L1601.3,1127.1 L1606.3,1128.1 L1611.3,1129.0 L1616.3,1129.9 L1621.3,1130.9 L1626.3,1131.8 L1631.3,1132.8 L1636.4,1133.7 L1641.4,1134.6 L1646.4,1135.6 L1651.4,1136.5 L1656.4,1137.4 L1661.4,1138.4 L1666.4,1139.3 L1671.4,1140.3 L1676.4,1141.2 L1681.4,1142.1 L1686.4,1143.1 L1691.4,1144.0 L1696.5,1144.9 L1701.5,1145.9 L1706.5,1146.8 L1711.5,1147.7 L1716.5,1148.7 L1721.5,1149.6 L1726.5,1150.5 L1731.5,1151.4 L1736.5,1152.4 L1741.5,1153.3 L1746.5,1154.2 L1751.5,1155.1 L1756.6,1156.0 L1761.6,1157.0 L1766.6,1157.9 L1771.6,1158.8 L1776.6,1159.7 L1781.6,1160.6 L1786.6,1161.5 L1791.6,1162.4 L1796.6,1163.4 L1801.6,1164.3 L1806.6,1165.2 L1811.6,1166.1 L1816.6,1167.0 L1821.7,1167.9 L1826.7,1168.8 L1831.7,1169.7 L1836.7,1170.6 L1841.7,1171.4 L1846.7,1172.3 L1851.7,1173.2 L1856.7,1174.1 L1861.7,1175.0 L1866.7,1175.9 L1871.7,1176.8" stroke="#7E2F8E" stroke-width="13"/>
<path d="M252.5,1418.2 L255.7,1418.2 L258.8,1418.1 L262.0,1417.9 L265.2,1417.6 L268.3,1417.3 L271.5,1417.0 L274.6,1416.5 L277.8,1416.0 L281.0,1415.4 L284.1,1414.8 L287.3,1414.0 L290.5,1413.3 L293.6,1412.4 L296.8,1411.4 L299.9,1410.4 L303.1,1409.3 L306.3,1408.2 L309.4,1406.9 L312.6,1405.6 L315.8,1404.2 L318.9,1402.7 L322.1,1401.1 L325.2,1399.5 L328.4,1397.7 L331.6,1395.9 L334.7,1393.9 L337.9,1391.9 L341.0,1389.7 L344.2,1387.5 L347.4,1385.1 L350.5,1382.7 L353.7,1380.1 L356.9,1377.4 L360.0,1374.6 L363.2,1371.7 L366.3,1368.6 L369.5,1365.4 L372.7,1362.1 L375.8,1358.6 L379.0,1355.0 L382.2,1351.2 L385.3,1347.3 L388.5,1343.1 L391.6,1338.8 L394.8,1334.4 L398.0,1329.7 L401.1,1324.8 L404.3,1319.7 L407.4,1314.4 L410.6,1308.8 L413.8,1303.1 L416.9,1297.0 L420.1,1290.7 L423.3,1284.1 L426.4,1277.2 L429.6,1269.9 L432.7,1262.4 L435.9,1254.5 L439.1,1246.2 L439.1,1246.2 L439.7,1244.5 L440.3,1242.8 L440.9,1241.1 L441.6,1239.4 L442.2,1237.6 L442.8,1235.9 L443.4,1234.1 L444.1,1232.3 L444.7,1230.5 L445.3,1228.7 L445.9,1226.8 L446.6,1224.9 L447.2,1223.1 L447.8,1221.2 L448.4,1219.3 L449.1,1217.3 L449.7,1215.4 L450.3,1213.4 L450.9,1211.4 L451.5,1209.4 L452.2,1207.4 L452.8,1205.3 L453.4,1203.2 L454.0,1201.2 L454.7,1199.0 L455.3,1196.9 L455.9,1194.8 L456.5,1192.6 L457.2,1190.4 L457.8,1188.2 L458.4,1185.9 L459.0,1183.7 L459.7,1181.4 L460.3,1179.1 L460.9,1176.8 L461.5,1174.4 L462.2,1172.0 L462.8,1169.6 L463.4,1167.2 L464.0,1164.8 L464.6,1162.3 L465.3,1159.8 L465.9,1157.3 L466.5,1154.7 L467.1,1152.1 L467.8,1149.5 L468.4,1146.9 L469.0,1144.2 L469.6,1141.6 L470.3,1138.8 L470.9,1136.1 L471.5,1133.3 L472.1,1130.5 L472.8,1127.7 L473.4,1124.8 L474.0,1122.0 L474.6,1119.0 L475.2,1116.1 L475.9,1113.1 L476.5,1110.1 L477.1,1107.1 L477.7,1104.0 L478.4,1100.9 L479.0,1097.7 L479.6,1094.5 L480.2,1091.3 L480.9,1088.1 L481.5,1084.8 L482.1,1081.5 L482.7,1078.1 L483.4,1074.8 L484.0,1071.3 L484.6,1067.9 L485.2,1064.4 L485.9,1060.8 L486.5,1057.2 L487.1,1053.6 L487.7,1050.0 L488.3,1046.3 L489.0,1042.5 L489.6,1038.7 L490.2,1034.9 L490.8,1031.1 L491.5,1027.1 L492.1,1023.2 L492.7,1019.2 L493.3,1015.2 L494.0,1011.1 L494.6,1006.9 L495.2,1002.8 L495.8,998.5 L496.5,994.3 L497.1,989.9 L497.7,985.6 L498.3,981.2 L499.0,976.7 L499.6,972.2 L500.2,967.6 L500.8,963.0 L501.4,958.3 L502.1,953.6 L502.7,948.8 L503.3,944.0 L503.9,939.1 L504.6,934.1 L505.2,929.1 L505.8,924.1 L506.4,919.0 L507.1,913.8 L507.7,908.6 L508.3,903.3 L508.9,898.0 L509.6,892.6 L510.2,887.1 L510.8,881.6 L511.4,876.0 L512.1,870.4 L512.7,864.7 L513.3,858.9 L513.9,853.1 L514.5,847.2 L515.2,841.2 L515.8,835.2 L516.4,829.1 L517.0,823.0 L517.7,816.8 L518.3,810.5 L518.9,804.2 L519.5,797.8 L520.2,791.3 L520.8,784.8 L521.4,778.2 L522.0,771.5 L522.7,764.8 L523.3,758.0 L523.9,751.2 L524.5,744.2 L525.2,737.3 L525.8,730.2 L526.4,723.1 L527.0,716.0 L527.6,708.7 L528.3,701.4 L528.9,694.1 L529.5,686.7 L530.1,679.2 L530.8,671.7 L531.4,664.1 L532.0,656.5 L532.6,648.8 L533.3,641.1 L533.9,633.3 L534.5,625.4 L535.1,617.6 L535.8,609.6 L536.4,601.7 L537.0,593.7 L537.6,585.6 L538.3,577.6 L538.9,569.5 L539.5,561.3 L540.1,553.2 L540.7,545.0 L541.4,536.8 L542.0,528.6 L542.6,520.4 L543.2,512.2 L543.9,503.9 L544.5,495.7 L545.1,487.5 L545.7,479.3 L546.4,471.1 L547.0,462.9 L547.6,454.7 L548.2,446.6 L548.9,438.5 L549.5,430.5 L550.1,422.5 L550.7,414.6 L551.4,406.7 L552.0,398.9 L552.6,391.1 L553.2,383.5 L553.8,375.9 L554.5,368.4 L555.1,361.0 L555.7,353.7 L556.3,346.5 L557.0,339.4 L557.6,332.5 L558.2,325.7 L558.8,319.0 L559.5,312.5 L560.1,306.1 L560.7,299.8 L561.3,293.7 L562.0,287.8 L562.6,282.1 L563.2,276.5 L563.8,271.1 L564.5,265.9 L565.1,260.9 L565.7,256.0 L566.3,251.4 L566.9,247.0 L567.6,242.8 L568.2,238.7 L568.8,234.9 L569.4,231.4 L570.1,228.0 L570.7,224.8 L571.3,221.9 L571.9,219.2 L572.6,216.7 L573.2,214.4 L573.8,212.3 L574.4,210.5 L575.1,208.9 L575.7,207.5 L576.3,206.3 L576.9,205.3 L577.6,204.5 L578.2,204.0 L578.8,203.7 L579.4,203.5 L580.0,203.6 L580.7,203.8 L581.3,204.3 L581.9,204.9 L582.5,205.8 L583.2,206.8 L583.8,208.0 L584.4,209.3 L585.0,210.8 L585.7,212.5 L586.3,214.4 L586.9,216.4 L587.5,218.5 L588.2,220.8 L588.8,223.2 L589.4,225.8 L590.0,228.5 L590.7,231.3 L591.3,234.2 L591.9,237.2 L592.5,240.3 L593.1,243.6 L593.8,246.9 L594.4,250.3 L595.0,253.9 L595.6,257.5 L596.3,261.1 L596.9,264.9 L597.5,268.7 L598.1,272.6 L598.8,276.5 L599.4,280.5 L600.0,284.5 L600.6,288.6 L601.3,292.7 L601.9,296.9 L602.5,301.1 L603.1,305.4 L603.8,309.6 L604.4,313.9 L605.0,318.3 L605.6,322.6 L606.2,327.0 L606.9,331.3 L607.5,335.7 L608.1,340.1 L608.7,344.5 L609.4,348.9 L610.0,353.3 L610.6,357.8 L611.2,362.2 L611.9,366.6 L612.5,371.0 L613.1,375.4 L613.7,379.8 L614.4,384.2 L615.0,388.5 L615.6,392.9 L616.2,397.3 L616.9,401.6 L617.5,405.9 L618.1,410.2 L618.7,414.5 L619.3,418.7 L620.0,423.0 L620.6,427.2 L621.2,431.4 L621.8,435.6 L622.5,439.7 L623.1,443.9 L623.7,448.0 L624.3,452.1 L625.0,456.1 L625.6,460.2 L626.2,464.2 L626.8,468.1 L627.5,472.1 L628.1,476.0 L628.7,479.9 L629.3,483.8 L630.0,487.6 L630.6,491.4 L631.2,495.2 L631.8,499.0 L632.4,502.7 L633.1,506.4 L633.7,510.1 L634.3,513.7 L634.9,517.4 L635.6,520.9 L636.2,524.5 L636.8,528.0 L637.4,531.5 L638.1,535.0 L638.7,538.4 L639.3,541.9 L639.9,545.2 L640.6,548.6 L641.2,551.9 L641.8,555.2 L642.4,558.5 L643.0,561.8 L643.7,565.0 L644.3,568.2 L644.9,571.3 L645.5,574.5 L646.2,577.6 L646.8,580.7 L647.4,583.7 L648.0,586.7 L648.7,589.7 L649.3,592.7 L649.9,595.7 L650.5,598.6 L651.2,601.5 L651.8,604.4 L652.4,607.2 L653.0,610.0 L653.7,612.8 L654.3,615.6 L654.9,618.4 L655.5,621.1 L656.1,623.8 L656.8,626.5 L657.4,629.1 L658.0,631.8 L658.6,634.4 L659.3,637.0 L659.9,639.5 L660.5,642.1 L661.1,644.6 L661.8,647.1 L662.4,649.5 L663.0,652.0 L663.6,654.4 L664.3,656.8 L664.9,659.2 L665.5,661.6 L666.1,663.9 L666.8,666.3 L667.4,668.6 L668.0,670.9 L668.6,673.1 L669.2,675.4 L669.9,677.6 L670.5,679.8 L671.1,682.0 L671.7,684.2 L672.4,686.3 L673.0,688.5 L673.6,690.6 L674.2,692.7 L674.9,694.7 L675.5,696.8 L676.1,698.9 L676.7,700.9 L677.4,702.9 L678.0,704.9 L678.6,706.9 L679.2,708.8 L679.9,710.8 L680.5,712.7 L681.1,714.6 L681.7,716.5 L682.3,718.4 L683.0,720.3 L683.6,722.1 L684.2,723.9 L684.8,725.8 L685.5,727.6 L686.1,729.3 L686.7,731.1 L687.3,732.9 L688.0,734.6 L688.6,736.4 L689.2,738.1 L689.8,739.8 L690.5,741.5 L691.1,743.2 L691.7,744.8 L692.3,746.5 L693.0,748.1 L693.6,749.7 L694.2,751.3 L694.8,752.9 L695.4,754.5 L696.1,756.1 L696.7,757.7 L697.3,759.2 L697.9,760.7 L698.6,762.3 L699.2,763.8 L699.8,765.3 L700.4,766.8 L701.1,768.3 L701.7,769.7 L702.3,771.2 L702.9,772.6 L703.6,774.1 L704.2,775.5 L704.8,776.9 L705.4,778.3 L706.1,779.7 L706.7,781.1 L707.3,782.4 L707.9,783.8 L708.5,785.2 L709.2,786.5 L709.8,787.8 L710.4,789.1 L711.0,790.5 L711.7,791.8 L712.3,793.0 L712.9,794.3 L713.5,795.6 L714.2,796.9 L714.8,798.1 L715.4,799.4 L716.0,800.6 L716.7,801.8 L717.3,803.0 L717.9,804.3 L718.5,805.5 L719.2,806.7 L719.8,807.8 L720.4,809.0 L721.0,810.2 L721.6,811.3 L722.3,812.5 L722.9,813.6 L723.5,814.8 L724.1,815.9 L724.8,817.0 L725.4,818.1 L726.0,819.2 L726.6,820.3 L727.3,821.4 L727.9,822.5 L728.5,823.6 L729.1,824.6 L729.8,825.7 L730.4,826.8 L731.0,827.8 L731.6,828.8 L732.3,829.9 L732.9,830.9 L733.5,831.9 L734.1,832.9 L734.7,833.9 L735.4,834.9 L736.0,835.9 L736.6,836.9 L737.2,837.9 L737.9,838.9 L738.5,839.8 L739.1,840.8 L739.7,841.7 L740.4,842.7 L741.0,843.6 L741.6,844.6 L742.2,845.5 L742.9,846.4 L743.5,847.3 L744.1,848.2 L744.7,849.1 L745.4,850.0 L746.0,850.9 L746.6,851.8 L747.2,852.7 L747.8,853.6 L748.5,854.5 L749.1,855.3 L749.7,856.2 L750.3,857.0 L751.0,857.9 L751.6,858.7 L752.2,859.6 L752.8,860.4 L753.5,861.2 L754.1,862.1 L754.7,862.9 L755.3,863.7 L756.0,864.5 L756.6,865.3 L757.2,866.1 L757.8,866.9 L758.5,867.7 L759.1,868.5 L759.7,869.3 L760.3,870.0 L760.9,870.8 L761.6,871.6 L762.2,872.3 L762.8,873.1 L763.4,873.9 L764.1,874.6 L764.7,875.4 L765.3,876.1 L765.9,876.8 L766.6,877.6 L767.2,878.3 L767.8,879.0 L768.4,879.7 L769.1,880.4 L769.7,881.2 L770.3,881.9 L770.9,882.6 L771.6,883.3 L772.2,884.0 L772.8,884.7 L773.4,885.3 L774.0,886.0 L774.7,886.7 L775.3,887.4 L775.9,888.1 L776.5,888.7 L777.2,889.4 L777.8,890.0 L778.4,890.7 L779.0,891.4 L779.7,892.0 L780.3,892.7 L780.9,893.3 L781.5,893.9 L782.2,894.6 L782.8,895.2 L783.4,895.8 L784.0,896.5 L784.7,897.1 L785.3,897.7 L785.9,898.3 L786.5,898.9 L787.1,899.5 L787.8,900.2 L788.4,900.8 L789.0,901.4 L789.6,902.0 L790.3,902.5 L790.9,903.1 L791.5,903.7 L792.1,904.3 L792.8,904.9 L793.4,905.5 L794.0,906.0 L794.6,906.6 L795.3,907.2 L795.9,907.7 L796.5,908.3 L797.1,908.9 L797.7,909.4 L798.4,910.0 L799.0,910.5 L799.6,911.1 L800.2,911.6 L800.9,912.2 L801.5,912.7 L802.1,913.3 L802.7,913.8 L803.4,914.3 L804.0,914.9 L804.6,915.4 L805.2,915.9 L805.9,916.4 L806.5,917.0 L807.1,917.5 L807.7,918.0 L808.4,918.5 L809.0,919.0 L809.6,919.5 L810.2,920.0 L810.8,920.5 L811.5,921.0 L812.1,921.5 L812.7,922.0 L813.3,922.5 L814.0,923.0 L814.6,923.5 L815.2,924.0 L815.8,924.5 L816.5,924.9 L817.1,925.4 L817.7,925.9 L818.3,926.4 L819.0,926.8 L819.6,927.3 L820.2,927.8 L820.8,928.2 L821.5,928.7 L822.1,929.2 L822.7,929.6 L823.3,930.1 L823.9,930.5 L824.6,931.0 L825.2,931.4 L825.8,931.9 L826.4,932.3 L827.1,932.8 L827.7,933.2 L828.3,933.7 L828.9,934.1 L829.6,934.5 L830.2,935.0 L830.8,935.4 L831.4,935.8 L832.1,936.3 L832.7,936.7 L833.3,937.1 L833.9,937.6 L834.6,938.0 L835.2,938.4 L835.8,938.8 L836.4,939.2 L837.0,939.6 L837.7,940.1 L838.3,940.5 L838.9,940.9 L839.5,941.3 L840.2,941.7 L840.8,942.1 L841.4,942.5 L842.0,942.9 L842.7,943.3 L843.3,943.7 L843.9,944.1 L844.5,944.5 L845.2,944.9 L845.8,945.3 L846.4,945.6 L847.0,946.0 L847.7,946.4 L848.3,946.8 L848.9,947.2 L849.5,947.6 L850.1,947.9 L850.8,948.3 L851.4,948.7 L852.0,949.1 L852.6,949.4 L853.3,949.8 L853.9,950.2 L854.5,950.5 L855.1,950.9 L855.8,951.3 L856.4,951.6 L857.0,952.0 L857.6,952.4 L858.3,952.7 L858.9,953.1 L859.5,953.4 L860.1,953.8 L860.8,954.1 L861.4,954.5 L862.0,954.8 L862.6,955.2 L863.2,955.5 L863.9,955.9 L864.5,956.2 L865.1,956.6 L865.7,956.9 L866.4,957.3 L867.0,957.6 L867.6,957.9 L868.2,958.3 L868.9,958.6 L869.5,958.9 L870.1,959.3 L870.7,959.6 L871.4,959.9 L872.0,960.3 L872.6,960.6 L873.2,960.9 L873.9,961.3 L874.5,961.6 L875.1,961.9 L880.1,964.2 L885.1,966.4 L890.1,968.5 L895.1,970.6 L900.1,972.6 L905.1,974.6 L910.2,976.5 L915.2,978.3 L920.2,980.1 L925.2,981.9 L930.2,983.6 L935.2,985.2 L940.2,986.8 L945.2,988.4 L950.2,990.0 L955.2,991.5 L960.2,992.9 L965.2,994.3 L970.3,995.7 L975.3,997.1 L980.3,998.4 L985.3,999.7 L990.3,1001.0 L995.3,1002.2 L1000.3,1003.5 L1005.3,1004.7 L1010.3,1005.8 L1015.3,1007.0 L1020.3,1008.1 L1025.3,1009.2 L1030.4,1010.3 L1035.4,1011.3 L1040.4,1012.4 L1045.4,1013.4 L1050.4,1014.4 L1055.4,1015.4 L1060.4,1016.3 L1065.4,1017.3 L1070.4,1018.2 L1075.4,1019.1 L1080.4,1020.0 L1085.4,1020.9 L1090.5,1021.8 L1095.5,1022.6 L1100.5,1023.5 L1105.5,1024.3 L1110.5,1025.2 L1115.5,1026.0 L1120.5,1026.8 L1125.5,1027.5 L1130.5,1028.3 L1135.5,1029.1 L1140.5,1029.9 L1145.5,1030.6 L1150.6,1031.3 L1155.6,1032.1 L1160.6,1032.8 L1165.6,1033.5 L1170.6,1034.2 L1175.6,1034.9 L1180.6,1035.6 L1185.6,1036.3 L1190.6,1036.9 L1195.6,1037.6 L1200.6,1038.3 L1205.6,1038.9 L1210.7,1039.6 L1215.7,1040.2 L1220.7,1040.8 L1225.7,1041.5 L1230.7,1042.1 L1235.7,1042.7 L1240.7,1043.3 L1245.7,1043.9 L1250.7,1044.5 L1255.7,1045.1 L1260.7,1045.7 L1265.7,1046.3 L1270.8,1046.9 L1275.8,1047.5 L1280.8,1048.0 L1285.8,1048.6 L1290.8,1049.2 L1295.8,1049.7 L1300.8,1050.3 L1305.8,1050.8 L1310.8,1051.4 L1315.8,1051.9 L1320.8,1052.5 L1325.8,1053.0 L1330.8,1053.6 L1335.9,1054.1 L1340.9,1054.6 L1345.9,1055.2 L1350.9,1055.7 L1355.9,1056.2 L1360.9,1056.8 L1365.9,1057.3 L1370.9,1057.8 L1375.9,1058.3 L1380.9,1058.8 L1385.9,1059.3 L1390.9,1059.8 L1396.0,1060.4 L1401.0,1060.9 L1406.0,1061.4 L1411.0,1061.9 L1416.0,1062.4 L1421.0,1062.9 L1426.0,1063.4 L1431.0,1063.9 L1436.0,1064.4 L1441.0,1064.9 L1446.0,1065.3 L1451.0,1065.8 L1456.1,1066.3 L1461.1,1066.8 L1466.1,1067.3 L1471.1,1067.8 L1476.1,1068.3 L1481.1,1068.8 L1486.1,1069.2 L1491.1,1069.7 L1496.1,1070.2 L1501.1,1070.7 L1506.1,1071.2 L1511.1,1071.6 L1516.2,1072.1 L1521.2,1072.6 L1526.2,1073.1 L1531.2,1073.5 L1536.2,1074.0 L1541.2,1074.5 L1546.2,1075.0 L1551.2,1075.4 L1556.2,1075.9 L1561.2,1076.4 L1566.2,1076.9 L1571.2,1077.3 L1576.3,1077.8 L1581.3,1078.3 L1586.3,1078.7 L1591.3,1079.2 L1596.3,1079.7 L1601.3,1080.1 L1606.3,1080.6 L1611.3,1081.1 L1616.3,1081.5 L1621.3,1082.0 L1626.3,1082.5 L1631.3,1082.9 L1636.4,1083.4 L1641.4,1083.9 L1646.4,1084.3 L1651.4,1084.8 L1656.4,1085.3 L1661.4,1085.7 L1666.4,1086.2 L1671.4,1086.7 L1676.4,1087.1 L1681.4,1087.6 L1686.4,1088.0 L1691.4,1088.5 L1696.5,1089.0 L1701.5,1089.4 L1706.5,1089.9 L1711.5,1090.4 L1716.5,1090.8 L1721.5,1091.3 L1726.5,1091.7 L1731.5,1092.2 L1736.5,1092.7 L1741.5,1093.1 L1746.5,1093.6 L1751.5,1094.1 L1756.6,1094.5 L1761.6,1095.0 L1766.6,1095.4 L1771.6,1095.9 L1776.6,1096.4 L1781.6,1096.8 L1786.6,1097.3 L1791.6,1097.8 L1796.6,1098.2 L1801.6,1098.7 L1806.6,1099.1 L1811.6,1099.6 L1816.6,1100.1 L1821.7,1100.5 L1826.7,1101.0 L1831.7,1101.5 L1836.7,1101.9 L1841.7,1102.4 L1846.7,1102.8 L1851.7,1103.3 L1856.7,1103.8 L1861.7,1104.2 L1866.7,1104.7 L1871.7,1105.2" stroke="#77AC30" stroke-width="13"/>
<path d="M578.5,51.9 L578.6,52.3 L578.6,52.8 L578.6,53.2 L578.6,53.7 L578.6,54.1 L578.6,54.5 L578.6,55.0 L578.6,55.4 L578.6,55.8 L578.6,56.3 L578.7,56.7 L578.7,57.1 L578.7,57.6 L578.7,58.0 L578.7,58.4 L578.7,58.9 L578.7,59.3 L578.7,59.7 L578.7,60.2 L578.7,60.6 L578.7,61.0 L578.8,61.5 L578.8,61.9 L578.8,62.3 L578.8,62.7 L578.8,63.2 L578.8,63.6 L578.8,64.0 L578.8,64.4 L578.8,64.9 L578.8,65.3 L578.9,65.7 L578.9,66.2 L578.9,66.6 L578.9,67.0 L578.9,67.4 L578.9,67.8 L578.9,68.3 L578.9,68.7 L578.9,69.1 L578.9,69.5 L578.9,70.0 L579.0,70.4 L579.0,70.8 L579.0,71.2 L579.0,71.6 L579.0,72.1 L579.0,72.5 L579.0,72.9 L579.0,73.3 L579.0,73.7 L579.0,74.1 L579.1,74.6 L579.1,75.0 L579.1,75.4 L579.1,75.8 L579.1,76.2 L579.1,76.6 L579.1,77.0 L579.1,77.5 L579.1,77.9 L579.1,78.3 L579.1,78.7 L579.2,79.1 L579.2,79.5 L579.2,79.9 L579.2,80.3 L579.2,80.7 L579.2,81.2 L579.2,81.6 L579.2,82.0 L579.2,82.4 L579.2,82.8 L579.3,83.2 L579.3,83.6 L579.3,84.0 L579.3,84.4 L579.3,84.8 L579.3,85.2 L579.3,85.6 L579.3,86.0 L579.3,86.4 L579.3,86.8 L579.3,87.2 L579.4,87.7 L579.4,88.1 L579.4,88.5 L579.4,88.9 L579.4,89.3 L579.4,89.7 L579.4,90.1 L579.4,90.5 L579.4,90.9 L579.4,91.3 L579.5,91.7 L579.5,92.1 L579.5,92.5 L579.5,92.9 L579.5,93.3 L579.5,93.6 L579.5,94.0 L579.5,94.4 L579.5,94.8 L579.5,95.2 L579.5,95.6 L579.6,96.0 L579.6,96.4 L579.6,96.8 L579.6,97.2 L579.6,97.6 L579.6,98.0 L579.6,98.4 L579.6,98.8 L579.6,99.2 L579.6,99.6 L579.7,99.9 L579.7,100.3 L579.7,100.7 L579.7,101.1 L579.7,101.5 L579.7,101.9 L579.7,102.3 L579.7,102.7 L579.7,103.1 L579.7,103.4 L579.7,103.8 L579.8,104.2 L579.8,104.6 L579.8,105.0 L579.8,105.4 L579.8,105.8 L579.8,106.1 L579.8,106.5 L579.8,106.9 L579.8,107.3 L579.8,107.7 L579.9,108.1 L579.9,108.4 L579.9,108.8 L579.9,109.2 L579.9,109.6 L579.9,110.0 L579.9,110.4 L579.9,110.7 L579.9,111.1 L579.9,111.5 L580.0,111.9 L580.0,112.3 L580.0,112.6 L580.0,113.0 L580.0,113.4 L580.0,113.8 L580.0,114.1 L580.0,114.5 L580.0,114.9 L580.0,115.3 L580.0,115.6 L580.1,116.0 L580.1,116.4 L580.1,116.8 L580.1,117.1 L580.1,117.5 L580.1,117.9 L580.1,118.3 L580.1,118.6 L580.1,119.0 L580.1,119.4 L580.2,119.8 L580.2,120.1 L580.2,120.5 L580.2,120.9 L580.2,121.2 L580.2,121.6 L580.2,122.0 L580.2,122.3 L580.2,122.7 L580.2,123.1 L580.2,123.5 L580.3,123.8 L580.3,124.2 L580.3,124.6 L580.3,124.9 L580.3,125.3 L580.3,125.7 L580.3,126.0 L580.3,126.4 L580.3,126.8 L580.3,127.1 L580.4,127.5 L580.4,127.8 L580.4,128.2 L580.4,128.6 L580.4,128.9 L580.4,129.3 L580.4,129.7 L580.4,130.0 L580.4,130.4 L580.4,130.7 L580.4,131.1 L580.5,131.5 L580.5,131.8 L580.5,132.2 L580.5,132.6 L580.5,132.9 L580.5,133.3 L580.5,133.6 L580.5,134.0 L580.5,134.3 L580.5,134.7 L580.6,135.1 L580.6,135.4 L580.6,135.8 L580.6,136.1 L580.6,136.5 L580.6,136.8 L580.6,137.2 L580.6,137.6 L580.6,137.9 L580.6,138.3 L580.6,138.6 L580.7,139.0 L580.7,139.3 L580.7,139.7 L580.7,140.0 L580.7,140.4 L580.7,140.7 L580.7,141.1 L580.7,141.4 L580.7,141.8 L580.7,142.1 L580.8,142.5 L580.8,142.8 L580.8,143.2 L580.8,143.5 L580.8,143.9 L580.8,144.2 L580.8,144.6 L580.8,144.9 L580.8,145.3 L580.8,145.6 L580.8,146.0 L580.9,146.3 L580.9,146.7 L580.9,147.0 L580.9,147.4 L580.9,147.7 L580.9,148.1 L580.9,148.4 L580.9,148.7 L580.9,149.1 L580.9,149.4 L581.0,149.8 L581.0,150.1 L581.0,150.5 L581.0,150.8 L581.0,151.2 L581.0,151.5 L581.0,151.8 L581.0,152.2 L581.0,152.5 L581.0,152.9 L581.0,153.2 L581.1,153.5 L581.1,153.9 L581.1,154.2 L581.1,154.6 L581.1,154.9 L581.1,155.2 L581.1,155.6 L581.1,155.9 L581.1,156.3 L581.1,156.6 L581.2,156.9 L581.2,157.3 L581.2,157.6 L581.2,157.9 L581.2,158.3 L581.2,158.6 L581.2,159.0 L581.2,159.3 L581.2,159.6 L581.2,160.0 L581.3,160.3 L581.3,160.6 L581.3,161.0 L581.3,161.3 L581.3,161.6 L581.3,162.0 L581.3,162.3 L581.3,162.6 L581.3,163.0 L581.3,163.3 L581.3,163.6 L581.4,164.0 L581.4,164.3 L581.4,164.6 L581.4,164.9 L581.4,165.3 L581.4,165.6 L581.4,165.9 L581.4,166.3 L581.4,166.6 L581.4,166.9 L581.5,167.3 L581.5,167.6 L581.5,167.9 L581.5,168.2 L581.5,168.6 L581.5,168.9 L581.5,169.2 L581.5,169.5 L581.5,169.9 L581.5,170.2 L581.5,170.5 L581.6,170.8 L581.6,171.2 L581.6,171.5 L581.6,171.8 L581.6,172.1 L581.6,172.5 L581.6,172.8 L581.6,173.1 L581.6,173.4 L581.6,173.8 L581.7,174.1 L581.7,174.4 L581.7,174.7 L581.7,175.1 L581.7,175.4 L581.7,175.7 L581.7,176.0 L581.7,176.3 L581.7,176.7 L581.7,177.0 L581.7,177.3 L581.8,177.6 L581.8,177.9 L581.8,178.3 L581.8,178.6 L581.8,178.9 L581.8,179.2 L581.8,179.5 L581.8,179.8 L581.8,180.2 L581.8,180.5 L581.9,180.8 L581.9,181.1 L581.9,181.4 L581.9,181.7 L581.9,182.1 L581.9,182.4 L581.9,182.7 L581.9,183.0 L581.9,183.3 L581.9,183.6 L581.9,183.9 L582.0,184.3 L582.0,184.6 L582.0,184.9 L582.0,185.2 L582.0,185.5 L582.0,185.8 L582.0,186.1 L582.0,186.5 L582.0,186.8 L582.0,187.1 L582.1,187.4 L582.1,187.7 L582.1,188.0 L582.1,188.3 L582.1,188.6 L582.1,188.9 L582.1,189.2 L582.1,189.6 L582.1,189.9 L582.1,190.2 L582.1,190.5 L582.2,190.8 L582.2,191.1 L582.2,191.4 L582.2,191.7 L582.2,192.0 L582.2,192.3 L582.2,192.6 L582.2,192.9 L582.2,193.2 L582.2,193.6 L582.3,193.9 L582.3,194.2 L582.3,194.5 L582.3,194.8 L582.3,195.1 L582.3,195.4 L582.3,195.7 L582.3,196.0 L582.3,196.3 L582.3,196.6 L582.3,196.9 L582.4,197.2 L582.4,197.5 L582.4,197.8 L582.4,198.1 L582.4,198.4 L582.4,198.7 L582.4,199.0 L582.4,199.3 L582.4,199.6 L582.4,199.9 L582.5,200.2 L582.5,200.5 L582.5,200.8 L582.5,201.1 L582.5,201.4 L582.5,201.7 L582.5,202.0 L582.5,202.3 L582.5,202.6 L582.5,202.9 L582.6,203.2 L582.6,203.5 L582.6,203.8 L582.6,204.1 L582.6,204.4 L582.6,204.7 L582.6,205.0 L582.6,205.3 L582.6,205.6 L582.6,205.9 L582.6,206.2 L582.7,206.5 L582.7,206.8 L582.7,207.1 L582.7,207.4 L582.7,207.7 L582.7,207.9 L582.7,208.2 L582.7,208.5 L582.7,208.8 L582.7,209.1 L582.8,209.4 L582.8,209.7 L582.8,210.0 L582.8,210.3 L582.8,210.6 L582.8,210.9 L582.8,211.2 L582.8,211.5 L582.8,211.7 L582.8,212.0 L582.8,212.3 L582.9,212.6 L582.9,212.9 L582.9,213.2 L582.9,213.5 L582.9,213.8 L582.9,214.1 L582.9,214.4 L582.9,214.6 L582.9,214.9 L582.9,215.2 L583.0,215.5 L583.0,215.8 L583.0,216.1 L583.0,216.4 L583.0,216.7 L583.0,216.9 L583.0,217.2 L583.0,217.5 L583.0,217.8 L583.0,218.1 L583.0,218.4 L583.1,218.7 L583.1,218.9 L583.1,219.2 L583.1,219.5 L583.1,219.8 L583.1,220.1 L583.1,220.4 L583.1,220.7 L583.1,220.9 L583.1,221.2 L583.2,221.5 L583.2,221.8 L583.2,222.1 L583.2,222.4 L583.2,222.6 L583.2,222.9 L583.2,223.2 L583.2,223.5 L583.2,223.8 L583.2,224.0 L583.2,224.3 L583.3,224.6 L583.3,224.9 L583.3,225.2 L583.3,225.4 L583.3,225.7 L583.3,226.0 L583.3,226.3 L585.2,276.4 L587.0,319.9 L588.8,358.2 L590.7,392.3 L592.5,422.7 L594.4,450.2 L596.2,475.2 L598.1,497.9 L599.9,518.7 L601.7,537.9 L603.6,555.7 L605.4,572.1 L607.3,587.5 L609.1,601.8 L611.0,615.1 L612.8,627.7 L614.6,639.5 L616.5,650.6 L618.3,661.1 L620.2,671.0 L622.0,680.4 L623.9,689.4 L625.7,697.9 L627.6,706.0 L629.4,713.7 L631.2,721.0 L633.1,728.0 L634.9,734.8 L636.8,741.2 L638.6,747.4 L640.5,753.3 L642.3,759.0 L644.1,764.4 L646.0,769.7 L647.8,774.7 L649.7,779.6 L651.5,784.3 L653.4,788.9 L655.2,793.2 L657.0,797.5 L658.9,801.6 L660.7,805.5 L662.6,809.4 L664.4,813.1 L666.3,816.7 L668.1,820.2 L669.9,823.5 L671.8,826.8 L673.6,830.0 L675.5,833.1 L677.3,836.1 L679.2,839.0 L681.0,841.9 L682.8,844.6 L684.7,847.3 L686.5,849.9 L688.4,852.5 L690.2,855.0 L692.1,857.4 L693.9,859.8 L695.8,862.1 L697.6,864.3 L699.4,866.5 L701.3,868.7 L703.1,870.7 L705.0,872.8 L706.8,874.8 L708.7,876.7 L710.5,878.6 L712.3,880.5 L714.2,882.3 L716.0,884.1 L717.9,885.9 L719.7,887.6 L721.6,889.2 L723.4,890.9 L725.2,892.5 L727.1,894.0 L728.9,895.6 L730.8,897.1 L732.6,898.6 L734.5,900.0 L736.3,901.4 L738.1,902.8 L740.0,904.2 L741.8,905.5 L743.7,906.8 L745.5,908.1 L747.4,909.4 L749.2,910.6 L751.0,911.8 L752.9,913.0 L754.7,914.2 L756.6,915.4 L758.4,916.5 L760.3,917.6 L762.1,918.7 L764.0,919.8 L765.8,920.8 L767.6,921.9 L769.5,922.9 L771.3,923.9 L773.2,924.9 L775.0,925.9 L776.9,926.8 L778.7,927.8 L780.5,928.7 L782.4,929.6 L784.2,930.5 L786.1,931.4 L787.9,932.2 L789.8,933.1 L791.6,933.9 L793.4,934.8 L795.3,935.6 L797.1,936.4 L799.0,937.2 L800.8,938.0 L802.7,938.7 L804.5,939.5 L806.3,940.2 L808.2,941.0 L810.0,941.7 L811.9,942.4 L813.7,943.1 L815.6,943.8 L817.4,944.5 L819.2,945.2 L821.1,945.8 L822.9,946.5 L824.8,947.1 L826.6,947.8 L828.5,948.4 L830.3,949.0 L832.2,949.6 L834.0,950.2 L835.8,950.8 L837.7,951.4 L839.5,952.0 L841.4,952.6 L843.2,953.2 L845.1,953.7 L846.9,954.3 L848.7,954.8 L850.6,955.3 L852.4,955.9 L854.3,956.4 L856.1,956.9 L858.0,957.4 L859.8,957.9 L861.6,958.4 L863.5,958.9 L865.3,959.4 L867.2,959.9 L869.0,960.4 L870.9,960.8 L872.7,961.3 L874.5,961.8 L876.4,962.2 L878.2,962.7 L880.1,963.1 L881.9,963.5 L883.8,964.0 L885.6,964.4 L887.4,964.8 L889.3,965.2 L891.1,965.7 L893.0,966.1 L894.8,966.5 L896.7,966.9 L898.5,967.3 L900.4,967.6 L902.2,968.0 L904.0,968.4 L905.9,968.8 L907.7,969.2 L909.6,969.5 L911.4,969.9 L913.3,970.3 L915.1,970.6 L916.9,971.0 L918.8,971.3 L920.6,971.7 L922.5,972.0 L924.3,972.3 L926.2,972.7 L928.0,973.0 L929.8,973.3 L931.7,973.7 L933.5,974.0 L935.4,974.3 L937.2,974.6 L939.1,974.9 L940.9,975.2 L942.7,975.6 L944.6,975.9 L946.4,976.2 L948.3,976.4 L950.1,976.7 L952.0,977.0 L953.8,977.3 L955.6,977.6 L957.5,977.9 L959.3,978.2 L961.2,978.4 L963.0,978.7 L964.9,979.0 L966.7,979.3 L968.6,979.5 L970.4,979.8 L972.2,980.1 L974.1,980.3 L975.9,980.6 L977.8,980.8 L979.6,981.1 L981.5,981.3 L983.3,981.6 L985.1,981.8 L987.0,982.1 L988.8,982.3 L990.7,982.5 L992.5,982.8 L994.4,983.0 L996.2,983.2 L998.0,983.5 L999.9,983.7 L1001.7,983.9 L1003.6,984.1 L1005.4,984.4 L1007.3,984.6 L1009.1,984.8 L1010.9,985.0 L1012.8,985.2 L1014.6,985.4 L1016.5,985.7 L1018.3,985.9 L1020.2,986.1 L1022.0,986.3 L1023.8,986.5 L1025.7,986.7 L1027.5,986.9 L1029.4,987.1 L1031.2,987.3 L1033.1,987.5 L1034.9,987.7 L1036.8,987.9 L1038.6,988.0 L1040.4,988.2 L1042.3,988.4 L1044.1,988.6 L1046.0,988.8 L1047.8,989.0 L1049.7,989.1 L1051.5,989.3 L1053.3,989.5 L1055.2,989.7 L1057.0,989.9 L1058.9,990.0 L1060.7,990.2 L1062.6,990.4 L1064.4,990.5 L1066.2,990.7 L1068.1,990.9 L1069.9,991.0 L1071.8,991.2 L1073.6,991.4 L1075.5,991.5 L1077.3,991.7 L1079.1,991.8 L1081.0,992.0 L1082.8,992.2 L1084.7,992.3 L1086.5,992.5 L1088.4,992.6 L1090.2,992.8 L1092.0,992.9 L1093.9,993.1 L1095.7,993.2 L1097.6,993.4 L1099.4,993.5 L1101.3,993.7 L1103.1,993.8 L1105.0,993.9 L1106.8,994.1 L1108.6,994.2 L1110.5,994.4 L1112.3,994.5 L1114.2,994.6 L1116.0,994.8 L1117.9,994.9 L1119.7,995.1 L1121.5,995.2 L1123.4,995.3 L1125.2,995.4 L1127.1,995.6 L1128.9,995.7 L1130.8,995.8 L1132.6,996.0 L1134.4,996.1 L1136.3,996.2 L1138.1,996.3 L1140.0,996.5 L1141.8,996.6 L1143.7,996.7 L1145.5,996.8 L1147.3,997.0 L1149.2,997.1 L1151.0,997.2 L1152.9,997.3 L1154.7,997.4 L1156.6,997.5 L1158.4,997.7 L1160.2,997.8 L1162.1,997.9 L1163.9,998.0 L1165.8,998.1 L1167.6,998.2 L1169.5,998.3 L1171.3,998.5 L1173.2,998.6 L1175.0,998.7 L1176.8,998.8 L1178.7,998.9 L1180.5,999.0 L1182.4,999.1 L1184.2,999.2 L1186.1,999.3 L1187.9,999.4 L1189.7,999.5 L1191.6,999.6 L1193.4,999.7 L1195.3,999.8 L1197.1,999.9 L1199.0,1000.0 L1200.8,1000.1 L1202.6,1000.2 L1204.5,1000.3 L1206.3,1000.4 L1208.2,1000.5 L1210.0,1000.6 L1211.9,1000.7 L1213.7,1000.8 L1215.5,1000.9 L1217.4,1001.0 L1219.2,1001.1 L1221.1,1001.2 L1222.9,1001.3 L1224.8,1001.4 L1226.6,1001.4 L1228.4,1001.5 L1230.3,1001.6 L1232.1,1001.7 L1234.0,1001.8 L1235.8,1001.9 L1237.7,1002.0 L1239.5,1002.1 L1241.4,1002.1 L1243.2,1002.2 L1245.0,1002.3 L1246.9,1002.4 L1248.7,1002.5 L1250.6,1002.6 L1252.4,1002.7 L1254.3,1002.7 L1256.1,1002.8 L1257.9,1002.9 L1259.8,1003.0 L1261.6,1003.1 L1263.5,1003.1 L1265.3,1003.2 L1267.2,1003.3 L1269.0,1003.4 L1270.8,1003.5 L1272.7,1003.5 L1274.5,1003.6 L1276.4,1003.7 L1278.2,1003.8 L1280.1,1003.8 L1281.9,1003.9 L1283.7,1004.0 L1285.6,1004.1 L1287.4,1004.1 L1289.3,1004.2 L1291.1,1004.3 L1293.0,1004.4 L1294.8,1004.4 L1296.6,1004.5 L1298.5,1004.6 L1300.3,1004.6 L1302.2,1004.7 L1304.0,1004.8 L1305.9,1004.9 L1307.7,1004.9 L1309.6,1005.0 L1311.4,1005.1 L1313.2,1005.1 L1315.1,1005.2 L1316.9,1005.3 L1318.8,1005.3 L1320.6,1005.4 L1322.5,1005.5 L1324.3,1005.5 L1326.1,1005.6 L1328.0,1005.7 L1329.8,1005.7 L1331.7,1005.8 L1333.5,1005.9 L1335.4,1005.9 L1337.2,1006.0 L1339.0,1006.1 L1340.9,1006.1 L1342.7,1006.2 L1344.6,1006.2 L1346.4,1006.3 L1348.3,1006.4 L1350.1,1006.4 L1351.9,1006.5 L1353.8,1006.5 L1355.6,1006.6 L1357.5,1006.7 L1359.3,1006.7 L1361.2,1006.8 L1363.0,1006.8 L1364.8,1006.9 L1366.7,1007.0 L1368.5,1007.0 L1370.4,1007.1 L1372.2,1007.1 L1374.1,1007.2 L1375.9,1007.2 L1377.8,1007.3 L1379.6,1007.4 L1381.4,1007.4 L1383.3,1007.5 L1385.1,1007.5 L1387.0,1007.6 L1388.8,1007.6 L1390.7,1007.7 L1392.5,1007.7 L1394.3,1007.8 L1396.2,1007.8 L1398.0,1007.9 L1399.9,1008.0 L1401.7,1008.0 L1403.6,1008.1 L1405.4,1008.1 L1407.2,1008.2 L1409.1,1008.2 L1410.9,1008.3 L1412.8,1008.3 L1414.6,1008.4 L1416.5,1008.4 L1418.3,1008.5 L1420.1,1008.5 L1422.0,1008.6 L1423.8,1008.6 L1425.7,1008.7 L1427.5,1008.7 L1429.4,1008.8 L1431.2,1008.8 L1433.0,1008.9 L1434.9,1008.9 L1436.7,1009.0 L1438.6,1009.0 L1440.4,1009.1 L1442.3,1009.1 L1444.1,1009.1 L1446.0,1009.2 L1447.8,1009.2 L1449.6,1009.3 L1451.5,1009.3 L1453.3,1009.4 L1455.2,1009.4 L1457.0,1009.5 L1458.9,1009.5 L1460.7,1009.6 L1462.5,1009.6 L1464.4,1009.6 L1466.2,1009.7 L1468.1,1009.7 L1469.9,1009.8 L1471.8,1009.8 L1473.6,1009.9 L1475.4,1009.9 L1477.3,1009.9 L1479.1,1010.0 L1481.0,1010.0 L1482.8,1010.1 L1484.7,1010.1 L1486.5,1010.2 L1488.3,1010.2 L1490.2,1010.2 L1492.0,1010.3 L1493.9,1010.3 L1495.7,1010.4 L1497.6,1010.4 L1499.4,1010.4 L1501.2,1010.5 L1503.1,1010.5 L1504.9,1010.6 L1506.8,1010.6 L1508.6,1010.6 L1510.5,1010.7 L1512.3,1010.7 L1514.2,1010.8 L1516.0,1010.8 L1517.8,1010.8 L1519.7,1010.9 L1521.5,1010.9 L1523.4,1011.0 L1525.2,1011.0 L1527.1,1011.0 L1528.9,1011.1 L1530.7,1011.1 L1532.6,1011.1 L1534.4,1011.2 L1536.3,1011.2 L1538.1,1011.3 L1540.0,1011.3 L1541.8,1011.3 L1543.6,1011.4 L1545.5,1011.4 L1547.3,1011.4 L1549.2,1011.5 L1551.0,1011.5 L1552.9,1011.5 L1554.7,1011.6 L1556.5,1011.6 L1558.4,1011.6 L1560.2,1011.7 L1562.1,1011.7 L1563.9,1011.7 L1565.8,1011.8 L1567.6,1011.8 L1569.4,1011.9 L1571.3,1011.9 L1573.1,1011.9 L1575.0,1012.0 L1576.8,1012.0 L1578.7,1012.0 L1580.5,1012.1 L1582.4,1012.1 L1584.2,1012.1 L1586.0,1012.2 L1587.9,1012.2 L1589.7,1012.2 L1591.6,1012.2 L1593.4,1012.3 L1595.3,1012.3 L1597.1,1012.3 L1598.9,1012.4 L1600.8,1012.4 L1602.6,1012.4 L1604.5,1012.5 L1606.3,1012.5 L1608.2,1012.5 L1610.0,1012.6 L1611.8,1012.6 L1613.7,1012.6 L1615.5,1012.7 L1617.4,1012.7 L1619.2,1012.7 L1621.1,1012.7 L1622.9,1012.8 L1624.7,1012.8 L1626.6,1012.8 L1628.4,1012.9 L1630.3,1012.9 L1632.1,1012.9 L1634.0,1013.0 L1635.8,1013.0 L1637.6,1013.0 L1639.5,1013.0 L1641.3,1013.1 L1643.2,1013.1 L1645.0,1013.1 L1646.9,1013.2 L1648.7,1013.2 L1650.6,1013.2 L1652.4,1013.2 L1654.2,1013.3 L1656.1,1013.3 L1657.9,1013.3 L1659.8,1013.3 L1661.6,1013.4 L1663.5,1013.4 L1665.3,1013.4 L1667.1,1013.5 L1669.0,1013.5 L1670.8,1013.5 L1672.7,1013.5 L1674.5,1013.6 L1676.4,1013.6 L1678.2,1013.6 L1680.0,1013.6 L1681.9,1013.7 L1683.7,1013.7 L1685.6,1013.7 L1687.4,1013.7 L1689.3,1013.8 L1691.1,1013.8 L1692.9,1013.8 L1694.8,1013.9 L1696.6,1013.9 L1698.5,1013.9 L1700.3,1013.9 L1702.2,1014.0 L1704.0,1014.0 L1705.8,1014.0 L1707.7,1014.0 L1709.5,1014.1 L1711.4,1014.1 L1713.2,1014.1 L1715.1,1014.1 L1716.9,1014.1 L1718.8,1014.2 L1720.6,1014.2 L1722.4,1014.2 L1724.3,1014.2 L1726.1,1014.3 L1728.0,1014.3 L1729.8,1014.3 L1731.7,1014.3 L1733.5,1014.4 L1735.3,1014.4 L1737.2,1014.4 L1739.0,1014.4 L1740.9,1014.5 L1742.7,1014.5 L1744.6,1014.5 L1746.4,1014.5 L1748.2,1014.5 L1750.1,1014.6 L1751.9,1014.6 L1753.8,1014.6 L1755.6,1014.6 L1757.5,1014.7 L1759.3,1014.7 L1761.1,1014.7 L1763.0,1014.7 L1764.8,1014.7 L1766.7,1014.8 L1768.5,1014.8 L1770.4,1014.8 L1772.2,1014.8 L1774.0,1014.9 L1775.9,1014.9 L1777.7,1014.9 L1779.6,1014.9 L1781.4,1014.9 L1783.3,1015.0 L1785.1,1015.0 L1787.0,1015.0 L1788.8,1015.0 L1790.6,1015.0 L1792.5,1015.1 L1794.3,1015.1 L1796.2,1015.1 L1798.0,1015.1 L1799.9,1015.1 L1801.7,1015.2 L1803.5,1015.2 L1805.4,1015.2 L1807.2,1015.2 L1809.1,1015.3 L1810.9,1015.3 L1812.8,1015.3 L1814.6,1015.3 L1816.4,1015.3 L1818.3,1015.3 L1820.1,1015.4 L1822.0,1015.4 L1823.8,1015.4 L1825.7,1015.4 L1827.5,1015.4 L1829.3,1015.5 L1831.2,1015.5 L1833.0,1015.5 L1834.9,1015.5 L1836.7,1015.5 L1838.6,1015.6 L1840.4,1015.6 L1842.2,1015.6 L1844.1,1015.6 L1845.9,1015.6 L1847.8,1015.7 L1849.6,1015.7 L1851.5,1015.7 L1853.3,1015.7 L1855.2,1015.7 L1857.0,1015.7 L1858.8,1015.8 L1860.7,1015.8 L1862.5,1015.8 L1864.4,1015.8 L1866.2,1015.8 L1868.1,1015.9 L1869.9,1015.9 L1871.7,1015.9" stroke="#000" stroke-width="6.5" stroke-dasharray="25.13 25.78" stroke-dashoffset="0.94"/>
</g>
<g font-family="Liberation Sans, Arial, Helvetica, sans-serif" font-size="73" fill="#262626">
<text transform="translate(229.3,1446.5) scale(1,1.03)" text-anchor="end">0</text>
<text transform="translate(229.3,1218.9) scale(1,1.03)" text-anchor="end">0.5</text>
<text transform="translate(229.3,991.3) scale(1,1.03)" text-anchor="end">1</text>
<text transform="translate(229.3,763.7) scale(1,1.03)" text-anchor="end">1.5</text>
<text transform="translate(229.3,536.1) scale(1,1.03)" text-anchor="end">2</text>
<text transform="translate(229.3,308.5) scale(1,1.03)" text-anchor="end">2.5</text>
<text transform="translate(229.3,80.9) scale(1,1.03)" text-anchor="end">3</text>
<text transform="translate(252.7,1515.8) scale(1,1.03)" text-anchor="middle">0</text>
<text transform="translate(564.1,1515.8) scale(1,1.03)" text-anchor="middle">0.5</text>
<text transform="translate(875.6,1515.8) scale(1,1.03)" text-anchor="middle">1</text>
<text transform="translate(1187.0,1515.8) scale(1,1.03)" text-anchor="middle">1.5</text>
<text transform="translate(1498.5,1515.8) scale(1,1.03)" text-anchor="middle">2</text>
<text transform="translate(1810.0,1515.8) scale(1,1.03)" text-anchor="middle">2.5</text>
</g>
<text font-family="Liberation Sans, Arial, Helvetica, sans-serif" font-size="79.15" fill="#262626" transform="translate(1061.4,1613.8) scale(1,1.03)" text-anchor="middle">Normalized Switching Frequency</text>
<text font-family="Liberation Sans, Arial, Helvetica, sans-serif" font-size="79.2" fill="#262626" transform="translate(96.7,735.85) rotate(-90) scale(1,1.03)" text-anchor="middle">Voltage Gain</text>
<rect x="1049.5" y="85.8" width="788.0" height="503.2" fill="#fff" stroke="#5a5a5a" stroke-width="2.7"/>
<g font-family="Liberation Sans, Arial, Helvetica, sans-serif" font-size="65.15" fill="#111">
<line x1="1062.1" y1="132.3" x2="1189.1" y2="132.3" stroke="#0072BD" stroke-width="8.2"/>
<text transform="translate(1198.5,156.9) scale(1,1.03)">Q=0.7389</text>
<line x1="1062.1" y1="214.4" x2="1189.1" y2="214.4" stroke="#D95319" stroke-width="8.2"/>
<text transform="translate(1198.5,239.0) scale(1,1.03)">Q=0.4926</text>
<line x1="1062.1" y1="296.4" x2="1189.1" y2="296.4" stroke="#EDB120" stroke-width="8.2"/>
<text transform="translate(1198.5,321.0) scale(1,1.03)">Q=0.3694</text>
<line x1="1062.1" y1="378.4" x2="1189.1" y2="378.4" stroke="#7E2F8E" stroke-width="8.2"/>
<text transform="translate(1198.5,403.1) scale(1,1.03)">Q=0.2111</text>
<line x1="1062.1" y1="460.5" x2="1189.1" y2="460.5" stroke="#77AC30" stroke-width="8.2"/>
<text transform="translate(1198.5,485.1) scale(1,1.03)">Q=0.1056</text>
<line x1="1062.1" y1="542.5" x2="1189.1" y2="542.5" stroke="#000" stroke-width="6.2" stroke-dasharray="25.5 25.3"/>
<text transform="translate(1198.5,567.1) scale(1,1.03)">Pure resistance curve</text>
</g>
</g>
</svg>
</body></html>
